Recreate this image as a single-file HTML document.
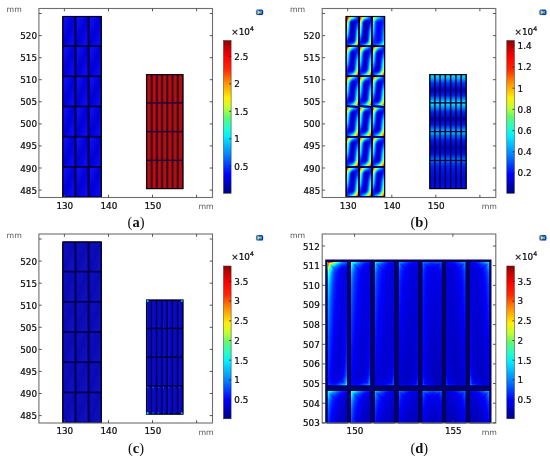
<!DOCTYPE html>
<html><head><meta charset="utf-8"><title>figure</title>
<style>
html,body{margin:0;padding:0;background:#fff}
svg{display:block;filter:blur(0.35px)}
.t{font-family:'DejaVu Sans', 'Liberation Sans', sans-serif;font-size:8.8px;fill:#0a0a0a;stroke:#0a0a0a;stroke-width:0.22px}
.m{font-family:'DejaVu Sans', 'Liberation Sans', sans-serif;font-size:7.8px;fill:#555}
.c{font-family:'Liberation Serif', 'DejaVu Serif', serif;font-size:14.5px;fill:#111}
</style></head><body>
<svg width="550" height="459" viewBox="0 0 550 459">
<defs>
<linearGradient id="icb" x1="0" y1="0" x2="1" y2="0.3"><stop offset="0" stop-color="#2a78d8"/><stop offset="1" stop-color="#0c1ea8"/></linearGradient>
<linearGradient id="jet" x1="0" y1="0" x2="0" y2="1">
<stop offset="0" stop-color="#8c0000"/><stop offset="0.05" stop-color="#c80000"/><stop offset="0.11" stop-color="#ff0000"/>
<stop offset="0.19" stop-color="#ff2800"/><stop offset="0.27" stop-color="#ff8800"/><stop offset="0.375" stop-color="#fff000"/>
<stop offset="0.44" stop-color="#c0ff30"/><stop offset="0.5" stop-color="#60f870"/><stop offset="0.57" stop-color="#20ffc8"/><stop offset="0.625" stop-color="#00f0ff"/>
<stop offset="0.75" stop-color="#0080ff"/><stop offset="0.875" stop-color="#0000ff"/>
<stop offset="1" stop-color="#000080"/></linearGradient>
<linearGradient id="ga" x1="0" y1="0" x2="1" y2="1"><stop offset="0" stop-color="#1212ff"/><stop offset="0.5" stop-color="#0000d6"/><stop offset="1" stop-color="#0e0efa"/></linearGradient>
<linearGradient id="gc" x1="0" y1="0" x2="1" y2="1"><stop offset="0" stop-color="#0e0ec0"/><stop offset="0.5" stop-color="#0a0ab4"/><stop offset="1" stop-color="#1212c8"/></linearGradient>
<linearGradient id="gr" x1="0" y1="0" x2="1" y2="0"><stop offset="0" stop-color="#7c0000"/><stop offset="0.3" stop-color="#b01010"/><stop offset="0.7" stop-color="#b01010"/><stop offset="1" stop-color="#7c0000"/></linearGradient>
<linearGradient id="gcr" x1="0" y1="0" x2="1" y2="0"><stop offset="0" stop-color="#0e0ed8"/><stop offset="0.5" stop-color="#0808c8"/><stop offset="1" stop-color="#0606b6"/></linearGradient>
<filter id="jetmap" color-interpolation-filters="sRGB" x="0" y="0" width="1" height="1"><feComponentTransfer><feFuncR type="table" tableValues="0 0 0 0 0.5 1 1 1 0.5"/><feFuncG type="table" tableValues="0 0 0.5 1 1 1 0.5 0 0"/><feFuncB type="table" tableValues="0.5 1 1 1 0.5 0 0 0 0"/></feComponentTransfer></filter>
<linearGradient id="cHgx" gradientUnits="userSpaceOnUse" x1="0" y1="0" x2="11.30" y2="0.00"><stop offset="0.000" stop-color="#fff" stop-opacity="1.000"/><stop offset="0.071" stop-color="#fff" stop-opacity="0.789"/><stop offset="0.143" stop-color="#fff" stop-opacity="0.599"/><stop offset="0.214" stop-color="#fff" stop-opacity="0.431"/><stop offset="0.286" stop-color="#fff" stop-opacity="0.286"/><stop offset="0.357" stop-color="#fff" stop-opacity="0.167"/><stop offset="0.429" stop-color="#fff" stop-opacity="0.076"/><stop offset="0.500" stop-color="#fff" stop-opacity="0.016"/><stop offset="0.571" stop-color="#fff" stop-opacity="0.000"/><stop offset="0.643" stop-color="#fff" stop-opacity="0.000"/><stop offset="0.714" stop-color="#fff" stop-opacity="0.000"/><stop offset="0.786" stop-color="#fff" stop-opacity="0.000"/><stop offset="0.857" stop-color="#fff" stop-opacity="0.000"/><stop offset="0.929" stop-color="#fff" stop-opacity="0.000"/><stop offset="1.000" stop-color="#fff" stop-opacity="0.000"/></linearGradient>
<linearGradient id="cHgy" gradientUnits="userSpaceOnUse" x1="0" y1="0" x2="0.00" y2="17.22"><stop offset="0.000" stop-color="#fff" stop-opacity="1.000"/><stop offset="0.071" stop-color="#fff" stop-opacity="0.720"/><stop offset="0.143" stop-color="#fff" stop-opacity="0.479"/><stop offset="0.214" stop-color="#fff" stop-opacity="0.280"/><stop offset="0.286" stop-color="#fff" stop-opacity="0.127"/><stop offset="0.357" stop-color="#fff" stop-opacity="0.028"/><stop offset="0.429" stop-color="#fff" stop-opacity="0.000"/><stop offset="0.500" stop-color="#fff" stop-opacity="0.000"/><stop offset="0.571" stop-color="#fff" stop-opacity="0.000"/><stop offset="0.643" stop-color="#fff" stop-opacity="0.000"/><stop offset="0.714" stop-color="#fff" stop-opacity="0.000"/><stop offset="0.786" stop-color="#fff" stop-opacity="0.000"/><stop offset="0.857" stop-color="#fff" stop-opacity="0.000"/><stop offset="0.929" stop-color="#fff" stop-opacity="0.000"/><stop offset="1.000" stop-color="#fff" stop-opacity="0.000"/></linearGradient>
<linearGradient id="cHhL" gradientUnits="userSpaceOnUse" x1="0" y1="0" x2="0.00" y2="28.70"><stop offset="0.000" stop-color="#bdbdbd"/><stop offset="0.071" stop-color="#b9b9b9"/><stop offset="0.143" stop-color="#afafaf"/><stop offset="0.214" stop-color="#a3a3a3"/><stop offset="0.286" stop-color="#969696"/><stop offset="0.357" stop-color="#898989"/><stop offset="0.429" stop-color="#7d7d7d"/><stop offset="0.500" stop-color="#717171"/><stop offset="0.571" stop-color="#616161"/><stop offset="0.643" stop-color="#515151"/><stop offset="0.714" stop-color="#404040"/><stop offset="0.786" stop-color="#2e2e2e"/><stop offset="0.857" stop-color="#1d1d1d"/><stop offset="0.929" stop-color="#131313"/><stop offset="1.000" stop-color="#090909"/></linearGradient>
<mask id="cHmL" maskUnits="userSpaceOnUse" x="0" y="0" width="11.30" height="28.70"><rect width="11.30" height="28.70" fill="url(#cHhL)"/></mask>
<linearGradient id="cHhR" gradientUnits="userSpaceOnUse" x1="0" y1="0" x2="0.00" y2="28.70"><stop offset="0.000" stop-color="#b2b2b2"/><stop offset="0.071" stop-color="#afafaf"/><stop offset="0.143" stop-color="#a6a6a6"/><stop offset="0.214" stop-color="#9a9a9a"/><stop offset="0.286" stop-color="#8e8e8e"/><stop offset="0.357" stop-color="#828282"/><stop offset="0.429" stop-color="#777777"/><stop offset="0.500" stop-color="#6b6b6b"/><stop offset="0.571" stop-color="#5c5c5c"/><stop offset="0.643" stop-color="#4c4c4c"/><stop offset="0.714" stop-color="#3d3d3d"/><stop offset="0.786" stop-color="#2c2c2c"/><stop offset="0.857" stop-color="#1c1c1c"/><stop offset="0.929" stop-color="#121212"/><stop offset="1.000" stop-color="#090909"/></linearGradient>
<mask id="cHmR" maskUnits="userSpaceOnUse" x="0" y="0" width="11.30" height="28.70"><rect width="11.30" height="28.70" fill="url(#cHhR)"/></mask>
<linearGradient id="cHhT" gradientUnits="userSpaceOnUse" x1="0" y1="0" x2="11.30" y2="0.00"><stop offset="0.000" stop-color="#a8a8a8"/><stop offset="0.071" stop-color="#a5a5a5"/><stop offset="0.143" stop-color="#a2a2a2"/><stop offset="0.214" stop-color="#9e9e9e"/><stop offset="0.286" stop-color="#979797"/><stop offset="0.357" stop-color="#8c8c8c"/><stop offset="0.429" stop-color="#818181"/><stop offset="0.500" stop-color="#767676"/><stop offset="0.571" stop-color="#686868"/><stop offset="0.643" stop-color="#5b5b5b"/><stop offset="0.714" stop-color="#4d4d4d"/><stop offset="0.786" stop-color="#404040"/><stop offset="0.857" stop-color="#333333"/><stop offset="0.929" stop-color="#262626"/><stop offset="1.000" stop-color="#191919"/></linearGradient>
<mask id="cHmT" maskUnits="userSpaceOnUse" x="0" y="0" width="11.30" height="28.70"><rect width="11.30" height="28.70" fill="url(#cHhT)"/></mask>
<linearGradient id="cHhB" gradientUnits="userSpaceOnUse" x1="0" y1="0" x2="11.30" y2="0.00"><stop offset="0.000" stop-color="#a1a1a1"/><stop offset="0.071" stop-color="#9d9d9d"/><stop offset="0.143" stop-color="#9a9a9a"/><stop offset="0.214" stop-color="#979797"/><stop offset="0.286" stop-color="#909090"/><stop offset="0.357" stop-color="#868686"/><stop offset="0.429" stop-color="#7b7b7b"/><stop offset="0.500" stop-color="#707070"/><stop offset="0.571" stop-color="#646464"/><stop offset="0.643" stop-color="#575757"/><stop offset="0.714" stop-color="#4a4a4a"/><stop offset="0.786" stop-color="#3d3d3d"/><stop offset="0.857" stop-color="#313131"/><stop offset="0.929" stop-color="#242424"/><stop offset="1.000" stop-color="#181818"/></linearGradient>
<mask id="cHmB" maskUnits="userSpaceOnUse" x="0" y="0" width="11.30" height="28.70"><rect width="11.30" height="28.70" fill="url(#cHhB)"/></mask>
<g id="cH"><rect width="11.30" height="28.70" fill="#0a0a0a"/><rect width="11.30" height="28.70" fill="url(#cHgx)" mask="url(#cHmL)" style="mix-blend-mode:screen"/><rect width="11.30" height="28.70" fill="url(#cHgy)" mask="url(#cHmT)" style="mix-blend-mode:screen"/><g transform="translate(11.30,28.70) rotate(180)" style="mix-blend-mode:screen"><rect width="11.30" height="28.70" fill="url(#cHgx)" mask="url(#cHmR)"/></g><g transform="translate(11.30,28.70) rotate(180)" style="mix-blend-mode:screen"><rect width="11.30" height="28.70" fill="url(#cHgy)" mask="url(#cHmB)"/></g></g>
<linearGradient id="cAgx" gradientUnits="userSpaceOnUse" x1="0" y1="0" x2="11.30" y2="0.00"><stop offset="0.000" stop-color="#fff" stop-opacity="1.000"/><stop offset="0.071" stop-color="#fff" stop-opacity="0.759"/><stop offset="0.143" stop-color="#fff" stop-opacity="0.547"/><stop offset="0.214" stop-color="#fff" stop-opacity="0.364"/><stop offset="0.286" stop-color="#fff" stop-opacity="0.213"/><stop offset="0.357" stop-color="#fff" stop-opacity="0.096"/><stop offset="0.429" stop-color="#fff" stop-opacity="0.021"/><stop offset="0.500" stop-color="#fff" stop-opacity="0.000"/><stop offset="0.571" stop-color="#fff" stop-opacity="0.000"/><stop offset="0.643" stop-color="#fff" stop-opacity="0.000"/><stop offset="0.714" stop-color="#fff" stop-opacity="0.000"/><stop offset="0.786" stop-color="#fff" stop-opacity="0.000"/><stop offset="0.857" stop-color="#fff" stop-opacity="0.000"/><stop offset="0.929" stop-color="#fff" stop-opacity="0.000"/><stop offset="1.000" stop-color="#fff" stop-opacity="0.000"/></linearGradient>
<linearGradient id="cAgy" gradientUnits="userSpaceOnUse" x1="0" y1="0" x2="0.00" y2="17.22"><stop offset="0.000" stop-color="#fff" stop-opacity="1.000"/><stop offset="0.071" stop-color="#fff" stop-opacity="0.677"/><stop offset="0.143" stop-color="#fff" stop-opacity="0.408"/><stop offset="0.214" stop-color="#fff" stop-opacity="0.197"/><stop offset="0.286" stop-color="#fff" stop-opacity="0.054"/><stop offset="0.357" stop-color="#fff" stop-opacity="0.000"/><stop offset="0.429" stop-color="#fff" stop-opacity="0.000"/><stop offset="0.500" stop-color="#fff" stop-opacity="0.000"/><stop offset="0.571" stop-color="#fff" stop-opacity="0.000"/><stop offset="0.643" stop-color="#fff" stop-opacity="0.000"/><stop offset="0.714" stop-color="#fff" stop-opacity="0.000"/><stop offset="0.786" stop-color="#fff" stop-opacity="0.000"/><stop offset="0.857" stop-color="#fff" stop-opacity="0.000"/><stop offset="0.929" stop-color="#fff" stop-opacity="0.000"/><stop offset="1.000" stop-color="#fff" stop-opacity="0.000"/></linearGradient>
<linearGradient id="cAhL" gradientUnits="userSpaceOnUse" x1="0" y1="0" x2="0.00" y2="28.70"><stop offset="0.000" stop-color="#f2f2f2"/><stop offset="0.071" stop-color="#ededed"/><stop offset="0.143" stop-color="#e1e1e1"/><stop offset="0.214" stop-color="#d1d1d1"/><stop offset="0.286" stop-color="#c0c0c0"/><stop offset="0.357" stop-color="#b0b0b0"/><stop offset="0.429" stop-color="#a1a1a1"/><stop offset="0.500" stop-color="#919191"/><stop offset="0.571" stop-color="#7d7d7d"/><stop offset="0.643" stop-color="#686868"/><stop offset="0.714" stop-color="#535353"/><stop offset="0.786" stop-color="#3c3c3c"/><stop offset="0.857" stop-color="#252525"/><stop offset="0.929" stop-color="#191919"/><stop offset="1.000" stop-color="#0c0c0c"/></linearGradient>
<mask id="cAmL" maskUnits="userSpaceOnUse" x="0" y="0" width="11.30" height="28.70"><rect width="11.30" height="28.70" fill="url(#cAhL)"/></mask>
<linearGradient id="cAhR" gradientUnits="userSpaceOnUse" x1="0" y1="0" x2="0.00" y2="28.70"><stop offset="0.000" stop-color="#adadad"/><stop offset="0.071" stop-color="#aaaaaa"/><stop offset="0.143" stop-color="#a1a1a1"/><stop offset="0.214" stop-color="#959595"/><stop offset="0.286" stop-color="#8a8a8a"/><stop offset="0.357" stop-color="#7e7e7e"/><stop offset="0.429" stop-color="#737373"/><stop offset="0.500" stop-color="#686868"/><stop offset="0.571" stop-color="#595959"/><stop offset="0.643" stop-color="#4a4a4a"/><stop offset="0.714" stop-color="#3b3b3b"/><stop offset="0.786" stop-color="#2b2b2b"/><stop offset="0.857" stop-color="#1b1b1b"/><stop offset="0.929" stop-color="#121212"/><stop offset="1.000" stop-color="#090909"/></linearGradient>
<mask id="cAmR" maskUnits="userSpaceOnUse" x="0" y="0" width="11.30" height="28.70"><rect width="11.30" height="28.70" fill="url(#cAhR)"/></mask>
<linearGradient id="cAhT" gradientUnits="userSpaceOnUse" x1="0" y1="0" x2="11.30" y2="0.00"><stop offset="0.000" stop-color="#d1d1d1"/><stop offset="0.071" stop-color="#cdcdcd"/><stop offset="0.143" stop-color="#c9c9c9"/><stop offset="0.214" stop-color="#c5c5c5"/><stop offset="0.286" stop-color="#bcbcbc"/><stop offset="0.357" stop-color="#aeaeae"/><stop offset="0.429" stop-color="#a0a0a0"/><stop offset="0.500" stop-color="#929292"/><stop offset="0.571" stop-color="#828282"/><stop offset="0.643" stop-color="#717171"/><stop offset="0.714" stop-color="#606060"/><stop offset="0.786" stop-color="#505050"/><stop offset="0.857" stop-color="#404040"/><stop offset="0.929" stop-color="#2f2f2f"/><stop offset="1.000" stop-color="#1f1f1f"/></linearGradient>
<mask id="cAmT" maskUnits="userSpaceOnUse" x="0" y="0" width="11.30" height="28.70"><rect width="11.30" height="28.70" fill="url(#cAhT)"/></mask>
<linearGradient id="cAhB" gradientUnits="userSpaceOnUse" x1="0" y1="0" x2="11.30" y2="0.00"><stop offset="0.000" stop-color="#999999"/><stop offset="0.071" stop-color="#969696"/><stop offset="0.143" stop-color="#939393"/><stop offset="0.214" stop-color="#909090"/><stop offset="0.286" stop-color="#898989"/><stop offset="0.357" stop-color="#7f7f7f"/><stop offset="0.429" stop-color="#757575"/><stop offset="0.500" stop-color="#6b6b6b"/><stop offset="0.571" stop-color="#5f5f5f"/><stop offset="0.643" stop-color="#535353"/><stop offset="0.714" stop-color="#464646"/><stop offset="0.786" stop-color="#3a3a3a"/><stop offset="0.857" stop-color="#2f2f2f"/><stop offset="0.929" stop-color="#232323"/><stop offset="1.000" stop-color="#171717"/></linearGradient>
<mask id="cAmB" maskUnits="userSpaceOnUse" x="0" y="0" width="11.30" height="28.70"><rect width="11.30" height="28.70" fill="url(#cAhB)"/></mask>
<g id="cA"><rect width="11.30" height="28.70" fill="#0a0a0a"/><rect width="11.30" height="28.70" fill="url(#cAgx)" mask="url(#cAmL)" style="mix-blend-mode:screen"/><rect width="11.30" height="28.70" fill="url(#cAgy)" mask="url(#cAmT)" style="mix-blend-mode:screen"/><g transform="translate(11.30,28.70) rotate(180)" style="mix-blend-mode:screen"><rect width="11.30" height="28.70" fill="url(#cAgx)" mask="url(#cAmR)"/></g><g transform="translate(11.30,28.70) rotate(180)" style="mix-blend-mode:screen"><rect width="11.30" height="28.70" fill="url(#cAgy)" mask="url(#cAmB)"/></g></g>
<linearGradient id="cBgx" gradientUnits="userSpaceOnUse" x1="0" y1="0" x2="11.30" y2="0.00"><stop offset="0.000" stop-color="#fff" stop-opacity="1.000"/><stop offset="0.071" stop-color="#fff" stop-opacity="0.759"/><stop offset="0.143" stop-color="#fff" stop-opacity="0.547"/><stop offset="0.214" stop-color="#fff" stop-opacity="0.364"/><stop offset="0.286" stop-color="#fff" stop-opacity="0.213"/><stop offset="0.357" stop-color="#fff" stop-opacity="0.096"/><stop offset="0.429" stop-color="#fff" stop-opacity="0.021"/><stop offset="0.500" stop-color="#fff" stop-opacity="0.000"/><stop offset="0.571" stop-color="#fff" stop-opacity="0.000"/><stop offset="0.643" stop-color="#fff" stop-opacity="0.000"/><stop offset="0.714" stop-color="#fff" stop-opacity="0.000"/><stop offset="0.786" stop-color="#fff" stop-opacity="0.000"/><stop offset="0.857" stop-color="#fff" stop-opacity="0.000"/><stop offset="0.929" stop-color="#fff" stop-opacity="0.000"/><stop offset="1.000" stop-color="#fff" stop-opacity="0.000"/></linearGradient>
<linearGradient id="cBgy" gradientUnits="userSpaceOnUse" x1="0" y1="0" x2="0.00" y2="17.22"><stop offset="0.000" stop-color="#fff" stop-opacity="1.000"/><stop offset="0.071" stop-color="#fff" stop-opacity="0.677"/><stop offset="0.143" stop-color="#fff" stop-opacity="0.408"/><stop offset="0.214" stop-color="#fff" stop-opacity="0.197"/><stop offset="0.286" stop-color="#fff" stop-opacity="0.054"/><stop offset="0.357" stop-color="#fff" stop-opacity="0.000"/><stop offset="0.429" stop-color="#fff" stop-opacity="0.000"/><stop offset="0.500" stop-color="#fff" stop-opacity="0.000"/><stop offset="0.571" stop-color="#fff" stop-opacity="0.000"/><stop offset="0.643" stop-color="#fff" stop-opacity="0.000"/><stop offset="0.714" stop-color="#fff" stop-opacity="0.000"/><stop offset="0.786" stop-color="#fff" stop-opacity="0.000"/><stop offset="0.857" stop-color="#fff" stop-opacity="0.000"/><stop offset="0.929" stop-color="#fff" stop-opacity="0.000"/><stop offset="1.000" stop-color="#fff" stop-opacity="0.000"/></linearGradient>
<linearGradient id="cBhL" gradientUnits="userSpaceOnUse" x1="0" y1="0" x2="0.00" y2="28.70"><stop offset="0.000" stop-color="#dbdbdb"/><stop offset="0.071" stop-color="#d7d7d7"/><stop offset="0.143" stop-color="#cccccc"/><stop offset="0.214" stop-color="#bdbdbd"/><stop offset="0.286" stop-color="#aeaeae"/><stop offset="0.357" stop-color="#a0a0a0"/><stop offset="0.429" stop-color="#929292"/><stop offset="0.500" stop-color="#848484"/><stop offset="0.571" stop-color="#717171"/><stop offset="0.643" stop-color="#5e5e5e"/><stop offset="0.714" stop-color="#4b4b4b"/><stop offset="0.786" stop-color="#363636"/><stop offset="0.857" stop-color="#222222"/><stop offset="0.929" stop-color="#161616"/><stop offset="1.000" stop-color="#0b0b0b"/></linearGradient>
<mask id="cBmL" maskUnits="userSpaceOnUse" x="0" y="0" width="11.30" height="28.70"><rect width="11.30" height="28.70" fill="url(#cBhL)"/></mask>
<linearGradient id="cBhR" gradientUnits="userSpaceOnUse" x1="0" y1="0" x2="0.00" y2="28.70"><stop offset="0.000" stop-color="#a3a3a3"/><stop offset="0.071" stop-color="#a0a0a0"/><stop offset="0.143" stop-color="#989898"/><stop offset="0.214" stop-color="#8d8d8d"/><stop offset="0.286" stop-color="#828282"/><stop offset="0.357" stop-color="#777777"/><stop offset="0.429" stop-color="#6c6c6c"/><stop offset="0.500" stop-color="#626262"/><stop offset="0.571" stop-color="#545454"/><stop offset="0.643" stop-color="#464646"/><stop offset="0.714" stop-color="#383838"/><stop offset="0.786" stop-color="#282828"/><stop offset="0.857" stop-color="#191919"/><stop offset="0.929" stop-color="#111111"/><stop offset="1.000" stop-color="#080808"/></linearGradient>
<mask id="cBmR" maskUnits="userSpaceOnUse" x="0" y="0" width="11.30" height="28.70"><rect width="11.30" height="28.70" fill="url(#cBhR)"/></mask>
<linearGradient id="cBhT" gradientUnits="userSpaceOnUse" x1="0" y1="0" x2="11.30" y2="0.00"><stop offset="0.000" stop-color="#bdbdbd"/><stop offset="0.071" stop-color="#b9b9b9"/><stop offset="0.143" stop-color="#b5b5b5"/><stop offset="0.214" stop-color="#b1b1b1"/><stop offset="0.286" stop-color="#a9a9a9"/><stop offset="0.357" stop-color="#9d9d9d"/><stop offset="0.429" stop-color="#909090"/><stop offset="0.500" stop-color="#848484"/><stop offset="0.571" stop-color="#757575"/><stop offset="0.643" stop-color="#666666"/><stop offset="0.714" stop-color="#575757"/><stop offset="0.786" stop-color="#484848"/><stop offset="0.857" stop-color="#393939"/><stop offset="0.929" stop-color="#2b2b2b"/><stop offset="1.000" stop-color="#1c1c1c"/></linearGradient>
<mask id="cBmT" maskUnits="userSpaceOnUse" x="0" y="0" width="11.30" height="28.70"><rect width="11.30" height="28.70" fill="url(#cBhT)"/></mask>
<linearGradient id="cBhB" gradientUnits="userSpaceOnUse" x1="0" y1="0" x2="11.30" y2="0.00"><stop offset="0.000" stop-color="#8f8f8f"/><stop offset="0.071" stop-color="#8c8c8c"/><stop offset="0.143" stop-color="#898989"/><stop offset="0.214" stop-color="#868686"/><stop offset="0.286" stop-color="#808080"/><stop offset="0.357" stop-color="#777777"/><stop offset="0.429" stop-color="#6d6d6d"/><stop offset="0.500" stop-color="#646464"/><stop offset="0.571" stop-color="#595959"/><stop offset="0.643" stop-color="#4d4d4d"/><stop offset="0.714" stop-color="#424242"/><stop offset="0.786" stop-color="#363636"/><stop offset="0.857" stop-color="#2b2b2b"/><stop offset="0.929" stop-color="#202020"/><stop offset="1.000" stop-color="#151515"/></linearGradient>
<mask id="cBmB" maskUnits="userSpaceOnUse" x="0" y="0" width="11.30" height="28.70"><rect width="11.30" height="28.70" fill="url(#cBhB)"/></mask>
<g id="cB"><rect width="11.30" height="28.70" fill="#0a0a0a"/><rect width="11.30" height="28.70" fill="url(#cBgx)" mask="url(#cBmL)" style="mix-blend-mode:screen"/><rect width="11.30" height="28.70" fill="url(#cBgy)" mask="url(#cBmT)" style="mix-blend-mode:screen"/><g transform="translate(11.30,28.70) rotate(180)" style="mix-blend-mode:screen"><rect width="11.30" height="28.70" fill="url(#cBgx)" mask="url(#cBmR)"/></g><g transform="translate(11.30,28.70) rotate(180)" style="mix-blend-mode:screen"><rect width="11.30" height="28.70" fill="url(#cBgy)" mask="url(#cBmB)"/></g></g>
<linearGradient id="cCgx" gradientUnits="userSpaceOnUse" x1="0" y1="0" x2="11.30" y2="0.00"><stop offset="0.000" stop-color="#fff" stop-opacity="1.000"/><stop offset="0.071" stop-color="#fff" stop-opacity="0.741"/><stop offset="0.143" stop-color="#fff" stop-opacity="0.515"/><stop offset="0.214" stop-color="#fff" stop-opacity="0.324"/><stop offset="0.286" stop-color="#fff" stop-opacity="0.171"/><stop offset="0.357" stop-color="#fff" stop-opacity="0.061"/><stop offset="0.429" stop-color="#fff" stop-opacity="0.003"/><stop offset="0.500" stop-color="#fff" stop-opacity="0.000"/><stop offset="0.571" stop-color="#fff" stop-opacity="0.000"/><stop offset="0.643" stop-color="#fff" stop-opacity="0.000"/><stop offset="0.714" stop-color="#fff" stop-opacity="0.000"/><stop offset="0.786" stop-color="#fff" stop-opacity="0.000"/><stop offset="0.857" stop-color="#fff" stop-opacity="0.000"/><stop offset="0.929" stop-color="#fff" stop-opacity="0.000"/><stop offset="1.000" stop-color="#fff" stop-opacity="0.000"/></linearGradient>
<linearGradient id="cCgy" gradientUnits="userSpaceOnUse" x1="0" y1="0" x2="0.00" y2="17.22"><stop offset="0.000" stop-color="#fff" stop-opacity="1.000"/><stop offset="0.071" stop-color="#fff" stop-opacity="0.677"/><stop offset="0.143" stop-color="#fff" stop-opacity="0.408"/><stop offset="0.214" stop-color="#fff" stop-opacity="0.197"/><stop offset="0.286" stop-color="#fff" stop-opacity="0.054"/><stop offset="0.357" stop-color="#fff" stop-opacity="0.000"/><stop offset="0.429" stop-color="#fff" stop-opacity="0.000"/><stop offset="0.500" stop-color="#fff" stop-opacity="0.000"/><stop offset="0.571" stop-color="#fff" stop-opacity="0.000"/><stop offset="0.643" stop-color="#fff" stop-opacity="0.000"/><stop offset="0.714" stop-color="#fff" stop-opacity="0.000"/><stop offset="0.786" stop-color="#fff" stop-opacity="0.000"/><stop offset="0.857" stop-color="#fff" stop-opacity="0.000"/><stop offset="0.929" stop-color="#fff" stop-opacity="0.000"/><stop offset="1.000" stop-color="#fff" stop-opacity="0.000"/></linearGradient>
<linearGradient id="cChL" gradientUnits="userSpaceOnUse" x1="0" y1="0" x2="0.00" y2="28.70"><stop offset="0.000" stop-color="#858585"/><stop offset="0.071" stop-color="#828282"/><stop offset="0.143" stop-color="#7b7b7b"/><stop offset="0.214" stop-color="#727272"/><stop offset="0.286" stop-color="#696969"/><stop offset="0.357" stop-color="#616161"/><stop offset="0.429" stop-color="#585858"/><stop offset="0.500" stop-color="#505050"/><stop offset="0.571" stop-color="#444444"/><stop offset="0.643" stop-color="#393939"/><stop offset="0.714" stop-color="#2d2d2d"/><stop offset="0.786" stop-color="#212121"/><stop offset="0.857" stop-color="#151515"/><stop offset="0.929" stop-color="#0e0e0e"/><stop offset="1.000" stop-color="#070707"/></linearGradient>
<mask id="cCmL" maskUnits="userSpaceOnUse" x="0" y="0" width="11.30" height="28.70"><rect width="11.30" height="28.70" fill="url(#cChL)"/></mask>
<linearGradient id="cChR" gradientUnits="userSpaceOnUse" x1="0" y1="0" x2="0.00" y2="28.70"><stop offset="0.000" stop-color="#4c4c4c"/><stop offset="0.071" stop-color="#4b4b4b"/><stop offset="0.143" stop-color="#474747"/><stop offset="0.214" stop-color="#424242"/><stop offset="0.286" stop-color="#3d3d3d"/><stop offset="0.357" stop-color="#383838"/><stop offset="0.429" stop-color="#333333"/><stop offset="0.500" stop-color="#2e2e2e"/><stop offset="0.571" stop-color="#272727"/><stop offset="0.643" stop-color="#212121"/><stop offset="0.714" stop-color="#1a1a1a"/><stop offset="0.786" stop-color="#131313"/><stop offset="0.857" stop-color="#0c0c0c"/><stop offset="0.929" stop-color="#080808"/><stop offset="1.000" stop-color="#040404"/></linearGradient>
<mask id="cCmR" maskUnits="userSpaceOnUse" x="0" y="0" width="11.30" height="28.70"><rect width="11.30" height="28.70" fill="url(#cChR)"/></mask>
<linearGradient id="cChT" gradientUnits="userSpaceOnUse" x1="0" y1="0" x2="11.30" y2="0.00"><stop offset="0.000" stop-color="#757575"/><stop offset="0.071" stop-color="#737373"/><stop offset="0.143" stop-color="#717171"/><stop offset="0.214" stop-color="#6e6e6e"/><stop offset="0.286" stop-color="#696969"/><stop offset="0.357" stop-color="#626262"/><stop offset="0.429" stop-color="#5a5a5a"/><stop offset="0.500" stop-color="#525252"/><stop offset="0.571" stop-color="#494949"/><stop offset="0.643" stop-color="#3f3f3f"/><stop offset="0.714" stop-color="#363636"/><stop offset="0.786" stop-color="#2d2d2d"/><stop offset="0.857" stop-color="#242424"/><stop offset="0.929" stop-color="#1b1b1b"/><stop offset="1.000" stop-color="#121212"/></linearGradient>
<mask id="cCmT" maskUnits="userSpaceOnUse" x="0" y="0" width="11.30" height="28.70"><rect width="11.30" height="28.70" fill="url(#cChT)"/></mask>
<linearGradient id="cChB" gradientUnits="userSpaceOnUse" x1="0" y1="0" x2="11.30" y2="0.00"><stop offset="0.000" stop-color="#4c4c4c"/><stop offset="0.071" stop-color="#4b4b4b"/><stop offset="0.143" stop-color="#494949"/><stop offset="0.214" stop-color="#484848"/><stop offset="0.286" stop-color="#454545"/><stop offset="0.357" stop-color="#404040"/><stop offset="0.429" stop-color="#3b3b3b"/><stop offset="0.500" stop-color="#363636"/><stop offset="0.571" stop-color="#2f2f2f"/><stop offset="0.643" stop-color="#292929"/><stop offset="0.714" stop-color="#232323"/><stop offset="0.786" stop-color="#1d1d1d"/><stop offset="0.857" stop-color="#171717"/><stop offset="0.929" stop-color="#111111"/><stop offset="1.000" stop-color="#0b0b0b"/></linearGradient>
<mask id="cCmB" maskUnits="userSpaceOnUse" x="0" y="0" width="11.30" height="28.70"><rect width="11.30" height="28.70" fill="url(#cChB)"/></mask>
<g id="cC"><rect width="11.30" height="28.70" fill="#1f1f1f"/><rect width="11.30" height="28.70" fill="url(#cCgx)" mask="url(#cCmL)" style="mix-blend-mode:screen"/><rect width="11.30" height="28.70" fill="url(#cCgy)" mask="url(#cCmT)" style="mix-blend-mode:screen"/><g transform="translate(11.30,28.70) rotate(180)" style="mix-blend-mode:screen"><rect width="11.30" height="28.70" fill="url(#cCgx)" mask="url(#cCmR)"/></g><g transform="translate(11.30,28.70) rotate(180)" style="mix-blend-mode:screen"><rect width="11.30" height="28.70" fill="url(#cCgy)" mask="url(#cCmB)"/></g></g>
<linearGradient id="rb0" x1="0" y1="0" x2="0" y2="1"><stop offset="0" stop-color="#00f0e0"/><stop offset="0.12" stop-color="#00b0ff"/><stop offset="0.3" stop-color="#0030ff"/><stop offset="0.55" stop-color="#0000c0"/><stop offset="0.75" stop-color="#0020f0"/><stop offset="0.9" stop-color="#0090ff"/><stop offset="1" stop-color="#00e0ff"/></linearGradient>
<linearGradient id="rb1" x1="0" y1="0" x2="0" y2="1"><stop offset="0" stop-color="#00e8f0"/><stop offset="0.12" stop-color="#00a0ff"/><stop offset="0.3" stop-color="#0028f8"/><stop offset="0.55" stop-color="#0000b8"/><stop offset="0.78" stop-color="#0018e8"/><stop offset="0.92" stop-color="#0070ff"/><stop offset="1" stop-color="#00b8ff"/></linearGradient>
<linearGradient id="rb2" x1="0" y1="0" x2="0" y2="1"><stop offset="0" stop-color="#00d0ff"/><stop offset="0.1" stop-color="#0070ff"/><stop offset="0.3" stop-color="#0018f0"/><stop offset="0.55" stop-color="#0000c0"/><stop offset="0.8" stop-color="#0010e0"/><stop offset="0.94" stop-color="#0050ff"/><stop offset="1" stop-color="#0090ff"/></linearGradient>
<linearGradient id="rb3" x1="0" y1="0" x2="0" y2="1"><stop offset="0" stop-color="#0060ff"/><stop offset="0.15" stop-color="#0028ff"/><stop offset="0.4" stop-color="#0010e8"/><stop offset="0.7" stop-color="#0008d8"/><stop offset="1" stop-color="#0010f0"/></linearGradient>
<radialGradient id="spG"><stop offset="0" stop-color="#40ffa0" stop-opacity="0.95"/><stop offset="0.5" stop-color="#00c8ff" stop-opacity="0.6"/><stop offset="1" stop-color="#0060ff" stop-opacity="0"/></radialGradient>
<radialGradient id="spD"><stop offset="0" stop-color="#0070ff" stop-opacity="0.6"/><stop offset="1" stop-color="#0040ff" stop-opacity="0"/></radialGradient>
<radialGradient id="spC"><stop offset="0" stop-color="#00c0ff" stop-opacity="0.8"/><stop offset="1" stop-color="#0050ff" stop-opacity="0"/></radialGradient>
<linearGradient id="rimx" gradientUnits="userSpaceOnUse" x1="0" y1="0" x2="3.00" y2="0.00"><stop offset="0.000" stop-color="#fff" stop-opacity="1.000"/><stop offset="0.167" stop-color="#fff" stop-opacity="0.708"/><stop offset="0.333" stop-color="#fff" stop-opacity="0.435"/><stop offset="0.500" stop-color="#fff" stop-opacity="0.189"/><stop offset="0.667" stop-color="#fff" stop-opacity="0.000"/><stop offset="0.833" stop-color="#fff" stop-opacity="0.000"/><stop offset="1.000" stop-color="#fff" stop-opacity="0.000"/></linearGradient>
<linearGradient id="rimy" gradientUnits="userSpaceOnUse" x1="0" y1="0" x2="0.00" y2="3.00"><stop offset="0.000" stop-color="#fff" stop-opacity="1.000"/><stop offset="0.167" stop-color="#fff" stop-opacity="0.677"/><stop offset="0.333" stop-color="#fff" stop-opacity="0.378"/><stop offset="0.500" stop-color="#fff" stop-opacity="0.116"/><stop offset="0.667" stop-color="#fff" stop-opacity="0.000"/><stop offset="0.833" stop-color="#fff" stop-opacity="0.000"/><stop offset="1.000" stop-color="#fff" stop-opacity="0.000"/></linearGradient>
<linearGradient id="rimL" gradientUnits="userSpaceOnUse" x1="0" y1="0" x2="0.00" y2="18.00"><stop offset="0.000" stop-color="#b8b8b8"/><stop offset="0.111" stop-color="#b1b1b1"/><stop offset="0.222" stop-color="#9e9e9e"/><stop offset="0.333" stop-color="#808080"/><stop offset="0.444" stop-color="#5e5e5e"/><stop offset="0.556" stop-color="#404040"/><stop offset="0.667" stop-color="#262626"/><stop offset="0.778" stop-color="#141414"/><stop offset="0.889" stop-color="#0a0a0a"/><stop offset="1.000" stop-color="#000000"/></linearGradient>
<linearGradient id="rimT" gradientUnits="userSpaceOnUse" x1="0" y1="0" x2="12.00" y2="0.00"><stop offset="0.000" stop-color="#b8b8b8"/><stop offset="0.125" stop-color="#ababab"/><stop offset="0.250" stop-color="#9e9e9e"/><stop offset="0.375" stop-color="#828282"/><stop offset="0.500" stop-color="#666666"/><stop offset="0.625" stop-color="#4d4d4d"/><stop offset="0.750" stop-color="#333333"/><stop offset="0.875" stop-color="#1a1a1a"/><stop offset="1.000" stop-color="#000000"/></linearGradient>
<mask id="rmL" maskUnits="userSpaceOnUse" x="0" y="0" width="3" height="18"><rect width="3" height="18" fill="url(#rimL)"/></mask>
<mask id="rmT" maskUnits="userSpaceOnUse" x="0" y="0" width="12" height="3"><rect width="12" height="3" fill="url(#rimT)"/></mask>
<linearGradient id="dgx1" gradientUnits="userSpaceOnUse" x1="0" y1="0" x2="19.80" y2="0.00"><stop offset="0.000" stop-color="#fff" stop-opacity="1.000"/><stop offset="0.062" stop-color="#fff" stop-opacity="0.806"/><stop offset="0.125" stop-color="#fff" stop-opacity="0.629"/><stop offset="0.188" stop-color="#fff" stop-opacity="0.471"/><stop offset="0.250" stop-color="#fff" stop-opacity="0.334"/><stop offset="0.312" stop-color="#fff" stop-opacity="0.224"/><stop offset="0.375" stop-color="#fff" stop-opacity="0.161"/><stop offset="0.438" stop-color="#fff" stop-opacity="0.124"/><stop offset="0.500" stop-color="#fff" stop-opacity="0.089"/><stop offset="0.562" stop-color="#fff" stop-opacity="0.059"/><stop offset="0.625" stop-color="#fff" stop-opacity="0.033"/><stop offset="0.688" stop-color="#fff" stop-opacity="0.013"/><stop offset="0.750" stop-color="#fff" stop-opacity="0.000"/><stop offset="0.812" stop-color="#fff" stop-opacity="0.000"/><stop offset="0.875" stop-color="#fff" stop-opacity="0.000"/><stop offset="0.938" stop-color="#fff" stop-opacity="0.000"/><stop offset="1.000" stop-color="#fff" stop-opacity="0.000"/></linearGradient>
<linearGradient id="dgy1" gradientUnits="userSpaceOnUse" x1="0" y1="0" x2="0.00" y2="14.00"><stop offset="0.000" stop-color="#fff" stop-opacity="1.000"/><stop offset="0.071" stop-color="#fff" stop-opacity="0.802"/><stop offset="0.143" stop-color="#fff" stop-opacity="0.622"/><stop offset="0.214" stop-color="#fff" stop-opacity="0.461"/><stop offset="0.286" stop-color="#fff" stop-opacity="0.323"/><stop offset="0.357" stop-color="#fff" stop-opacity="0.216"/><stop offset="0.429" stop-color="#fff" stop-opacity="0.159"/><stop offset="0.500" stop-color="#fff" stop-opacity="0.121"/><stop offset="0.571" stop-color="#fff" stop-opacity="0.087"/><stop offset="0.643" stop-color="#fff" stop-opacity="0.056"/><stop offset="0.714" stop-color="#fff" stop-opacity="0.031"/><stop offset="0.786" stop-color="#fff" stop-opacity="0.011"/><stop offset="0.857" stop-color="#fff" stop-opacity="0.000"/><stop offset="0.929" stop-color="#fff" stop-opacity="0.000"/><stop offset="1.000" stop-color="#fff" stop-opacity="0.000"/></linearGradient>
<linearGradient id="dL1" gradientUnits="userSpaceOnUse" x1="0" y1="0" x2="0.00" y2="124.00"><stop offset="0.000" stop-color="#a8a8a8"/><stop offset="0.062" stop-color="#808080"/><stop offset="0.125" stop-color="#606060"/><stop offset="0.188" stop-color="#4d4d4d"/><stop offset="0.250" stop-color="#444444"/><stop offset="0.312" stop-color="#3b3b3b"/><stop offset="0.375" stop-color="#353535"/><stop offset="0.438" stop-color="#313131"/><stop offset="0.500" stop-color="#2c2c2c"/><stop offset="0.562" stop-color="#282828"/><stop offset="0.625" stop-color="#232323"/><stop offset="0.688" stop-color="#202020"/><stop offset="0.750" stop-color="#1d1d1d"/><stop offset="0.812" stop-color="#1a1a1a"/><stop offset="0.875" stop-color="#171717"/><stop offset="0.938" stop-color="#141414"/><stop offset="1.000" stop-color="#111111"/></linearGradient>
<linearGradient id="dT1" gradientUnits="userSpaceOnUse" x1="0" y1="0" x2="19.80" y2="0.00"><stop offset="0.000" stop-color="#949494"/><stop offset="0.125" stop-color="#888888"/><stop offset="0.250" stop-color="#7c7c7c"/><stop offset="0.375" stop-color="#6a6a6a"/><stop offset="0.500" stop-color="#575757"/><stop offset="0.625" stop-color="#464646"/><stop offset="0.750" stop-color="#363636"/><stop offset="0.875" stop-color="#2c2c2c"/><stop offset="1.000" stop-color="#212121"/></linearGradient>
<mask id="dmL1" maskUnits="userSpaceOnUse" x="0" y="0" width="19.8" height="124"><rect width="19.8" height="124" fill="url(#dL1)"/></mask>
<mask id="dmT1" maskUnits="userSpaceOnUse" x="0" y="0" width="19.8" height="14"><rect width="19.8" height="14" fill="url(#dT1)"/></mask>
<g id="k1"><rect width="19.8" height="124" fill="url(#dgx1)" mask="url(#dmL1)"/><rect width="19.8" height="14" fill="url(#dgy1)" mask="url(#dmT1)"/><path d="M0.8 0.8L11 11" stroke="url(#diag)" stroke-width="1.4" fill="none"/><rect width="3" height="18" fill="url(#rimx)" mask="url(#rmL)"/><rect width="12" height="3" fill="url(#rimy)" mask="url(#rmT)"/></g>
<linearGradient id="dgx2" gradientUnits="userSpaceOnUse" x1="0" y1="0" x2="19.80" y2="0.00"><stop offset="0.000" stop-color="#fff" stop-opacity="1.000"/><stop offset="0.062" stop-color="#fff" stop-opacity="0.755"/><stop offset="0.125" stop-color="#fff" stop-opacity="0.541"/><stop offset="0.188" stop-color="#fff" stop-opacity="0.366"/><stop offset="0.250" stop-color="#fff" stop-opacity="0.247"/><stop offset="0.312" stop-color="#fff" stop-opacity="0.203"/><stop offset="0.375" stop-color="#fff" stop-opacity="0.161"/><stop offset="0.438" stop-color="#fff" stop-opacity="0.124"/><stop offset="0.500" stop-color="#fff" stop-opacity="0.089"/><stop offset="0.562" stop-color="#fff" stop-opacity="0.059"/><stop offset="0.625" stop-color="#fff" stop-opacity="0.033"/><stop offset="0.688" stop-color="#fff" stop-opacity="0.013"/><stop offset="0.750" stop-color="#fff" stop-opacity="0.000"/><stop offset="0.812" stop-color="#fff" stop-opacity="0.000"/><stop offset="0.875" stop-color="#fff" stop-opacity="0.000"/><stop offset="0.938" stop-color="#fff" stop-opacity="0.000"/><stop offset="1.000" stop-color="#fff" stop-opacity="0.000"/></linearGradient>
<linearGradient id="dgy2" gradientUnits="userSpaceOnUse" x1="0" y1="0" x2="0.00" y2="14.00"><stop offset="0.000" stop-color="#fff" stop-opacity="1.000"/><stop offset="0.071" stop-color="#fff" stop-opacity="0.752"/><stop offset="0.143" stop-color="#fff" stop-opacity="0.537"/><stop offset="0.214" stop-color="#fff" stop-opacity="0.361"/><stop offset="0.286" stop-color="#fff" stop-opacity="0.245"/><stop offset="0.357" stop-color="#fff" stop-opacity="0.200"/><stop offset="0.429" stop-color="#fff" stop-opacity="0.159"/><stop offset="0.500" stop-color="#fff" stop-opacity="0.121"/><stop offset="0.571" stop-color="#fff" stop-opacity="0.087"/><stop offset="0.643" stop-color="#fff" stop-opacity="0.056"/><stop offset="0.714" stop-color="#fff" stop-opacity="0.031"/><stop offset="0.786" stop-color="#fff" stop-opacity="0.011"/><stop offset="0.857" stop-color="#fff" stop-opacity="0.000"/><stop offset="0.929" stop-color="#fff" stop-opacity="0.000"/><stop offset="1.000" stop-color="#fff" stop-opacity="0.000"/></linearGradient>
<linearGradient id="dL2" gradientUnits="userSpaceOnUse" x1="0" y1="0" x2="0.00" y2="124.00"><stop offset="0.000" stop-color="#4f4f4f"/><stop offset="0.062" stop-color="#3c3c3c"/><stop offset="0.125" stop-color="#2d2d2d"/><stop offset="0.188" stop-color="#242424"/><stop offset="0.250" stop-color="#202020"/><stop offset="0.312" stop-color="#1c1c1c"/><stop offset="0.375" stop-color="#191919"/><stop offset="0.438" stop-color="#171717"/><stop offset="0.500" stop-color="#151515"/><stop offset="0.562" stop-color="#131313"/><stop offset="0.625" stop-color="#111111"/><stop offset="0.688" stop-color="#0f0f0f"/><stop offset="0.750" stop-color="#0d0d0d"/><stop offset="0.812" stop-color="#0c0c0c"/><stop offset="0.875" stop-color="#0b0b0b"/><stop offset="0.938" stop-color="#090909"/><stop offset="1.000" stop-color="#080808"/></linearGradient>
<linearGradient id="dT2" gradientUnits="userSpaceOnUse" x1="0" y1="0" x2="19.80" y2="0.00"><stop offset="0.000" stop-color="#404040"/><stop offset="0.125" stop-color="#3b3b3b"/><stop offset="0.250" stop-color="#363636"/><stop offset="0.375" stop-color="#2e2e2e"/><stop offset="0.500" stop-color="#252525"/><stop offset="0.625" stop-color="#1e1e1e"/><stop offset="0.750" stop-color="#171717"/><stop offset="0.875" stop-color="#131313"/><stop offset="1.000" stop-color="#0e0e0e"/></linearGradient>
<mask id="dmL2" maskUnits="userSpaceOnUse" x="0" y="0" width="19.8" height="124"><rect width="19.8" height="124" fill="url(#dL2)"/></mask>
<mask id="dmT2" maskUnits="userSpaceOnUse" x="0" y="0" width="19.8" height="14"><rect width="19.8" height="14" fill="url(#dT2)"/></mask>
<g id="k2"><rect width="19.8" height="124" fill="url(#dgx2)" mask="url(#dmL2)"/><rect width="19.8" height="14" fill="url(#dgy2)" mask="url(#dmT2)"/><path d="M0.8 0.8L10 10" stroke="url(#diag)" stroke-width="1.4" fill="none"/></g>
<linearGradient id="dgx3" gradientUnits="userSpaceOnUse" x1="0" y1="0" x2="19.80" y2="0.00"><stop offset="0.000" stop-color="#fff" stop-opacity="1.000"/><stop offset="0.062" stop-color="#fff" stop-opacity="0.700"/><stop offset="0.125" stop-color="#fff" stop-opacity="0.457"/><stop offset="0.188" stop-color="#fff" stop-opacity="0.296"/><stop offset="0.250" stop-color="#fff" stop-opacity="0.247"/><stop offset="0.312" stop-color="#fff" stop-opacity="0.203"/><stop offset="0.375" stop-color="#fff" stop-opacity="0.161"/><stop offset="0.438" stop-color="#fff" stop-opacity="0.124"/><stop offset="0.500" stop-color="#fff" stop-opacity="0.089"/><stop offset="0.562" stop-color="#fff" stop-opacity="0.059"/><stop offset="0.625" stop-color="#fff" stop-opacity="0.033"/><stop offset="0.688" stop-color="#fff" stop-opacity="0.013"/><stop offset="0.750" stop-color="#fff" stop-opacity="0.000"/><stop offset="0.812" stop-color="#fff" stop-opacity="0.000"/><stop offset="0.875" stop-color="#fff" stop-opacity="0.000"/><stop offset="0.938" stop-color="#fff" stop-opacity="0.000"/><stop offset="1.000" stop-color="#fff" stop-opacity="0.000"/></linearGradient>
<linearGradient id="dgy3" gradientUnits="userSpaceOnUse" x1="0" y1="0" x2="0.00" y2="14.00"><stop offset="0.000" stop-color="#fff" stop-opacity="1.000"/><stop offset="0.071" stop-color="#fff" stop-opacity="0.708"/><stop offset="0.143" stop-color="#fff" stop-opacity="0.469"/><stop offset="0.214" stop-color="#fff" stop-opacity="0.301"/><stop offset="0.286" stop-color="#fff" stop-opacity="0.245"/><stop offset="0.357" stop-color="#fff" stop-opacity="0.200"/><stop offset="0.429" stop-color="#fff" stop-opacity="0.159"/><stop offset="0.500" stop-color="#fff" stop-opacity="0.121"/><stop offset="0.571" stop-color="#fff" stop-opacity="0.087"/><stop offset="0.643" stop-color="#fff" stop-opacity="0.056"/><stop offset="0.714" stop-color="#fff" stop-opacity="0.031"/><stop offset="0.786" stop-color="#fff" stop-opacity="0.011"/><stop offset="0.857" stop-color="#fff" stop-opacity="0.000"/><stop offset="0.929" stop-color="#fff" stop-opacity="0.000"/><stop offset="1.000" stop-color="#fff" stop-opacity="0.000"/></linearGradient>
<linearGradient id="dL3" gradientUnits="userSpaceOnUse" x1="0" y1="0" x2="0.00" y2="124.00"><stop offset="0.000" stop-color="#404040"/><stop offset="0.062" stop-color="#313131"/><stop offset="0.125" stop-color="#242424"/><stop offset="0.188" stop-color="#1d1d1d"/><stop offset="0.250" stop-color="#1a1a1a"/><stop offset="0.312" stop-color="#161616"/><stop offset="0.375" stop-color="#141414"/><stop offset="0.438" stop-color="#121212"/><stop offset="0.500" stop-color="#111111"/><stop offset="0.562" stop-color="#0f0f0f"/><stop offset="0.625" stop-color="#0d0d0d"/><stop offset="0.688" stop-color="#0c0c0c"/><stop offset="0.750" stop-color="#0b0b0b"/><stop offset="0.812" stop-color="#0a0a0a"/><stop offset="0.875" stop-color="#090909"/><stop offset="0.938" stop-color="#070707"/><stop offset="1.000" stop-color="#060606"/></linearGradient>
<linearGradient id="dT3" gradientUnits="userSpaceOnUse" x1="0" y1="0" x2="19.80" y2="0.00"><stop offset="0.000" stop-color="#333333"/><stop offset="0.125" stop-color="#2f2f2f"/><stop offset="0.250" stop-color="#2b2b2b"/><stop offset="0.375" stop-color="#242424"/><stop offset="0.500" stop-color="#1e1e1e"/><stop offset="0.625" stop-color="#181818"/><stop offset="0.750" stop-color="#131313"/><stop offset="0.875" stop-color="#0f0f0f"/><stop offset="1.000" stop-color="#0c0c0c"/></linearGradient>
<mask id="dmL3" maskUnits="userSpaceOnUse" x="0" y="0" width="19.8" height="124"><rect width="19.8" height="124" fill="url(#dL3)"/></mask>
<mask id="dmT3" maskUnits="userSpaceOnUse" x="0" y="0" width="19.8" height="14"><rect width="19.8" height="14" fill="url(#dT3)"/></mask>
<g id="k3"><rect width="19.8" height="124" fill="url(#dgx3)" mask="url(#dmL3)"/><rect width="19.8" height="14" fill="url(#dgy3)" mask="url(#dmT3)"/><path d="M0.8 0.8L9 9" stroke="url(#diag)" stroke-width="1.4" fill="none"/></g>
<linearGradient id="dgx4" gradientUnits="userSpaceOnUse" x1="0" y1="0" x2="19.80" y2="0.00"><stop offset="0.000" stop-color="#fff" stop-opacity="1.000"/><stop offset="0.062" stop-color="#fff" stop-opacity="0.674"/><stop offset="0.125" stop-color="#fff" stop-opacity="0.421"/><stop offset="0.188" stop-color="#fff" stop-opacity="0.294"/><stop offset="0.250" stop-color="#fff" stop-opacity="0.247"/><stop offset="0.312" stop-color="#fff" stop-opacity="0.203"/><stop offset="0.375" stop-color="#fff" stop-opacity="0.161"/><stop offset="0.438" stop-color="#fff" stop-opacity="0.124"/><stop offset="0.500" stop-color="#fff" stop-opacity="0.089"/><stop offset="0.562" stop-color="#fff" stop-opacity="0.059"/><stop offset="0.625" stop-color="#fff" stop-opacity="0.033"/><stop offset="0.688" stop-color="#fff" stop-opacity="0.013"/><stop offset="0.750" stop-color="#fff" stop-opacity="0.000"/><stop offset="0.812" stop-color="#fff" stop-opacity="0.000"/><stop offset="0.875" stop-color="#fff" stop-opacity="0.000"/><stop offset="0.938" stop-color="#fff" stop-opacity="0.000"/><stop offset="1.000" stop-color="#fff" stop-opacity="0.000"/></linearGradient>
<linearGradient id="dgy4" gradientUnits="userSpaceOnUse" x1="0" y1="0" x2="0.00" y2="14.00"><stop offset="0.000" stop-color="#fff" stop-opacity="1.000"/><stop offset="0.071" stop-color="#fff" stop-opacity="0.694"/><stop offset="0.143" stop-color="#fff" stop-opacity="0.448"/><stop offset="0.214" stop-color="#fff" stop-opacity="0.292"/><stop offset="0.286" stop-color="#fff" stop-opacity="0.245"/><stop offset="0.357" stop-color="#fff" stop-opacity="0.200"/><stop offset="0.429" stop-color="#fff" stop-opacity="0.159"/><stop offset="0.500" stop-color="#fff" stop-opacity="0.121"/><stop offset="0.571" stop-color="#fff" stop-opacity="0.087"/><stop offset="0.643" stop-color="#fff" stop-opacity="0.056"/><stop offset="0.714" stop-color="#fff" stop-opacity="0.031"/><stop offset="0.786" stop-color="#fff" stop-opacity="0.011"/><stop offset="0.857" stop-color="#fff" stop-opacity="0.000"/><stop offset="0.929" stop-color="#fff" stop-opacity="0.000"/><stop offset="1.000" stop-color="#fff" stop-opacity="0.000"/></linearGradient>
<linearGradient id="dL4" gradientUnits="userSpaceOnUse" x1="0" y1="0" x2="0.00" y2="124.00"><stop offset="0.000" stop-color="#303030"/><stop offset="0.062" stop-color="#252525"/><stop offset="0.125" stop-color="#1c1c1c"/><stop offset="0.188" stop-color="#161616"/><stop offset="0.250" stop-color="#141414"/><stop offset="0.312" stop-color="#111111"/><stop offset="0.375" stop-color="#0f0f0f"/><stop offset="0.438" stop-color="#0e0e0e"/><stop offset="0.500" stop-color="#0d0d0d"/><stop offset="0.562" stop-color="#0b0b0b"/><stop offset="0.625" stop-color="#0a0a0a"/><stop offset="0.688" stop-color="#090909"/><stop offset="0.750" stop-color="#080808"/><stop offset="0.812" stop-color="#070707"/><stop offset="0.875" stop-color="#070707"/><stop offset="0.938" stop-color="#060606"/><stop offset="1.000" stop-color="#050505"/></linearGradient>
<linearGradient id="dT4" gradientUnits="userSpaceOnUse" x1="0" y1="0" x2="19.80" y2="0.00"><stop offset="0.000" stop-color="#262626"/><stop offset="0.125" stop-color="#232323"/><stop offset="0.250" stop-color="#202020"/><stop offset="0.375" stop-color="#1b1b1b"/><stop offset="0.500" stop-color="#161616"/><stop offset="0.625" stop-color="#121212"/><stop offset="0.750" stop-color="#0e0e0e"/><stop offset="0.875" stop-color="#0b0b0b"/><stop offset="1.000" stop-color="#090909"/></linearGradient>
<mask id="dmL4" maskUnits="userSpaceOnUse" x="0" y="0" width="19.8" height="124"><rect width="19.8" height="124" fill="url(#dL4)"/></mask>
<mask id="dmT4" maskUnits="userSpaceOnUse" x="0" y="0" width="19.8" height="14"><rect width="19.8" height="14" fill="url(#dT4)"/></mask>
<g id="k4"><rect width="19.8" height="124" fill="url(#dgx4)" mask="url(#dmL4)"/><rect width="19.8" height="14" fill="url(#dgy4)" mask="url(#dmT4)"/><path d="M0.8 0.8L8 8" stroke="url(#diag)" stroke-width="1.4" fill="none"/></g>
<linearGradient id="dgx5" gradientUnits="userSpaceOnUse" x1="0" y1="0" x2="19.80" y2="0.00"><stop offset="0.000" stop-color="#fff" stop-opacity="1.000"/><stop offset="0.062" stop-color="#fff" stop-opacity="0.660"/><stop offset="0.125" stop-color="#fff" stop-opacity="0.403"/><stop offset="0.188" stop-color="#fff" stop-opacity="0.294"/><stop offset="0.250" stop-color="#fff" stop-opacity="0.247"/><stop offset="0.312" stop-color="#fff" stop-opacity="0.203"/><stop offset="0.375" stop-color="#fff" stop-opacity="0.161"/><stop offset="0.438" stop-color="#fff" stop-opacity="0.124"/><stop offset="0.500" stop-color="#fff" stop-opacity="0.089"/><stop offset="0.562" stop-color="#fff" stop-opacity="0.059"/><stop offset="0.625" stop-color="#fff" stop-opacity="0.033"/><stop offset="0.688" stop-color="#fff" stop-opacity="0.013"/><stop offset="0.750" stop-color="#fff" stop-opacity="0.000"/><stop offset="0.812" stop-color="#fff" stop-opacity="0.000"/><stop offset="0.875" stop-color="#fff" stop-opacity="0.000"/><stop offset="0.938" stop-color="#fff" stop-opacity="0.000"/><stop offset="1.000" stop-color="#fff" stop-opacity="0.000"/></linearGradient>
<linearGradient id="dgy5" gradientUnits="userSpaceOnUse" x1="0" y1="0" x2="0.00" y2="14.00"><stop offset="0.000" stop-color="#fff" stop-opacity="1.000"/><stop offset="0.071" stop-color="#fff" stop-opacity="0.678"/><stop offset="0.143" stop-color="#fff" stop-opacity="0.426"/><stop offset="0.214" stop-color="#fff" stop-opacity="0.292"/><stop offset="0.286" stop-color="#fff" stop-opacity="0.245"/><stop offset="0.357" stop-color="#fff" stop-opacity="0.200"/><stop offset="0.429" stop-color="#fff" stop-opacity="0.159"/><stop offset="0.500" stop-color="#fff" stop-opacity="0.121"/><stop offset="0.571" stop-color="#fff" stop-opacity="0.087"/><stop offset="0.643" stop-color="#fff" stop-opacity="0.056"/><stop offset="0.714" stop-color="#fff" stop-opacity="0.031"/><stop offset="0.786" stop-color="#fff" stop-opacity="0.011"/><stop offset="0.857" stop-color="#fff" stop-opacity="0.000"/><stop offset="0.929" stop-color="#fff" stop-opacity="0.000"/><stop offset="1.000" stop-color="#fff" stop-opacity="0.000"/></linearGradient>
<linearGradient id="dL5" gradientUnits="userSpaceOnUse" x1="0" y1="0" x2="0.00" y2="124.00"><stop offset="0.000" stop-color="#212121"/><stop offset="0.062" stop-color="#191919"/><stop offset="0.125" stop-color="#131313"/><stop offset="0.188" stop-color="#0f0f0f"/><stop offset="0.250" stop-color="#0d0d0d"/><stop offset="0.312" stop-color="#0c0c0c"/><stop offset="0.375" stop-color="#0b0b0b"/><stop offset="0.438" stop-color="#0a0a0a"/><stop offset="0.500" stop-color="#090909"/><stop offset="0.562" stop-color="#080808"/><stop offset="0.625" stop-color="#070707"/><stop offset="0.688" stop-color="#060606"/><stop offset="0.750" stop-color="#060606"/><stop offset="0.812" stop-color="#050505"/><stop offset="0.875" stop-color="#040404"/><stop offset="0.938" stop-color="#040404"/><stop offset="1.000" stop-color="#030303"/></linearGradient>
<linearGradient id="dT5" gradientUnits="userSpaceOnUse" x1="0" y1="0" x2="19.80" y2="0.00"><stop offset="0.000" stop-color="#1c1c1c"/><stop offset="0.125" stop-color="#1a1a1a"/><stop offset="0.250" stop-color="#181818"/><stop offset="0.375" stop-color="#141414"/><stop offset="0.500" stop-color="#101010"/><stop offset="0.625" stop-color="#0d0d0d"/><stop offset="0.750" stop-color="#0a0a0a"/><stop offset="0.875" stop-color="#080808"/><stop offset="1.000" stop-color="#060606"/></linearGradient>
<mask id="dmL5" maskUnits="userSpaceOnUse" x="0" y="0" width="19.8" height="124"><rect width="19.8" height="124" fill="url(#dL5)"/></mask>
<mask id="dmT5" maskUnits="userSpaceOnUse" x="0" y="0" width="19.8" height="14"><rect width="19.8" height="14" fill="url(#dT5)"/></mask>
<g id="k5"><rect width="19.8" height="124" fill="url(#dgx5)" mask="url(#dmL5)"/><rect width="19.8" height="14" fill="url(#dgy5)" mask="url(#dmT5)"/><path d="M0.8 0.8L7 7" stroke="url(#diag)" stroke-width="1.4" fill="none"/></g>
<linearGradient id="diag" gradientUnits="userSpaceOnUse" x1="0" y1="0" x2="13" y2="13"><stop offset="0" stop-color="#000" stop-opacity="0.04"/><stop offset="0.35" stop-color="#000" stop-opacity="0.24"/><stop offset="0.85" stop-color="#000" stop-opacity="0"/></linearGradient>
<linearGradient id="dbL" x1="0" y1="0" x2="1" y2="0"><stop offset="0" stop-color="#262626"/><stop offset="0.3" stop-color="#202020"/><stop offset="0.65" stop-color="#1a1a1a"/><stop offset="1" stop-color="#151515"/></linearGradient>
<linearGradient id="dbM" x1="0" y1="0" x2="1" y2="0"><stop offset="0" stop-color="#202020"/><stop offset="0.4" stop-color="#1a1a1a"/><stop offset="1" stop-color="#161616"/></linearGradient>
<linearGradient id="dbR" x1="0" y1="0" x2="1" y2="0"><stop offset="0" stop-color="#151515"/><stop offset="0.5" stop-color="#181818"/><stop offset="1" stop-color="#202020"/></linearGradient>
<linearGradient id="dsh" x1="0" y1="0" x2="0" y2="1"><stop offset="0" stop-color="#000" stop-opacity="0"/><stop offset="0.25" stop-color="#000" stop-opacity="0.08"/><stop offset="1" stop-color="#000" stop-opacity="0.38"/></linearGradient>
</defs>
<rect width="550" height="459" fill="#fff"/>
<g>
<rect x="62.2" y="15.9" width="39.7" height="181.6" fill="#00003c"/>
<rect x="63.40" y="17.10" width="10.97" height="28.10" fill="url(#ga)"/>
<rect x="76.57" y="17.10" width="10.97" height="28.10" fill="url(#ga)"/>
<rect x="89.73" y="17.10" width="10.97" height="28.10" fill="url(#ga)"/>
<rect x="63.40" y="47.00" width="10.97" height="28.40" fill="url(#ga)"/>
<rect x="76.57" y="47.00" width="10.97" height="28.40" fill="url(#ga)"/>
<rect x="89.73" y="47.00" width="10.97" height="28.40" fill="url(#ga)"/>
<rect x="63.40" y="77.20" width="10.97" height="28.40" fill="url(#ga)"/>
<rect x="76.57" y="77.20" width="10.97" height="28.40" fill="url(#ga)"/>
<rect x="89.73" y="77.20" width="10.97" height="28.40" fill="url(#ga)"/>
<rect x="63.40" y="107.40" width="10.97" height="28.40" fill="url(#ga)"/>
<rect x="76.57" y="107.40" width="10.97" height="28.40" fill="url(#ga)"/>
<rect x="89.73" y="107.40" width="10.97" height="28.40" fill="url(#ga)"/>
<rect x="63.40" y="137.60" width="10.97" height="28.40" fill="url(#ga)"/>
<rect x="76.57" y="137.60" width="10.97" height="28.40" fill="url(#ga)"/>
<rect x="89.73" y="137.60" width="10.97" height="28.40" fill="url(#ga)"/>
<rect x="63.40" y="167.80" width="10.97" height="28.40" fill="url(#ga)"/>
<rect x="76.57" y="167.80" width="10.97" height="28.40" fill="url(#ga)"/>
<rect x="89.73" y="167.80" width="10.97" height="28.40" fill="url(#ga)"/>
<path d="M62.800000000000004 197.5V16.5H101.30000000000001V197.5" fill="none" stroke="#05050f" stroke-width="1.0"/>
<rect x="146.0" y="74.1" width="37.4" height="115.0" fill="#200038"/>
<rect x="147.00" y="75.10" width="4.03" height="27.05" fill="url(#gr)"/>
<rect x="152.23" y="75.10" width="4.03" height="27.05" fill="url(#gr)"/>
<rect x="157.46" y="75.10" width="4.03" height="27.05" fill="url(#gr)"/>
<rect x="162.69" y="75.10" width="4.03" height="27.05" fill="url(#gr)"/>
<rect x="167.91" y="75.10" width="4.03" height="27.05" fill="url(#gr)"/>
<rect x="173.14" y="75.10" width="4.03" height="27.05" fill="url(#gr)"/>
<rect x="178.37" y="75.10" width="4.03" height="27.05" fill="url(#gr)"/>
<rect x="147.00" y="103.55" width="4.03" height="27.35" fill="url(#gr)"/>
<rect x="152.23" y="103.55" width="4.03" height="27.35" fill="url(#gr)"/>
<rect x="157.46" y="103.55" width="4.03" height="27.35" fill="url(#gr)"/>
<rect x="162.69" y="103.55" width="4.03" height="27.35" fill="url(#gr)"/>
<rect x="167.91" y="103.55" width="4.03" height="27.35" fill="url(#gr)"/>
<rect x="173.14" y="103.55" width="4.03" height="27.35" fill="url(#gr)"/>
<rect x="178.37" y="103.55" width="4.03" height="27.35" fill="url(#gr)"/>
<rect x="147.00" y="132.30" width="4.03" height="27.35" fill="url(#gr)"/>
<rect x="152.23" y="132.30" width="4.03" height="27.35" fill="url(#gr)"/>
<rect x="157.46" y="132.30" width="4.03" height="27.35" fill="url(#gr)"/>
<rect x="162.69" y="132.30" width="4.03" height="27.35" fill="url(#gr)"/>
<rect x="167.91" y="132.30" width="4.03" height="27.35" fill="url(#gr)"/>
<rect x="173.14" y="132.30" width="4.03" height="27.35" fill="url(#gr)"/>
<rect x="178.37" y="132.30" width="4.03" height="27.35" fill="url(#gr)"/>
<rect x="147.00" y="161.05" width="4.03" height="27.05" fill="url(#gr)"/>
<rect x="152.23" y="161.05" width="4.03" height="27.05" fill="url(#gr)"/>
<rect x="157.46" y="161.05" width="4.03" height="27.05" fill="url(#gr)"/>
<rect x="162.69" y="161.05" width="4.03" height="27.05" fill="url(#gr)"/>
<rect x="167.91" y="161.05" width="4.03" height="27.05" fill="url(#gr)"/>
<rect x="173.14" y="161.05" width="4.03" height="27.05" fill="url(#gr)"/>
<rect x="178.37" y="161.05" width="4.03" height="27.05" fill="url(#gr)"/>
<rect x="146.5" y="74.6" width="36.4" height="114.0" fill="none" stroke="#100008" stroke-width="1.1"/>
<rect x="38.9" y="8.5" width="173.6" height="189.0" fill="none" stroke="#6e6e6e" stroke-width="1.1"/>
<path d="M64.4 197.5v-2.8M64.4 8.5v2.8M108.5 197.5v-2.8M108.5 8.5v2.8M152.5 197.5v-2.8M152.5 8.5v2.8M196.6 197.5v-2.8M196.6 8.5v2.8M38.9 13.5h2.8M212.5 13.5h-2.8M38.9 35.6h2.8M212.5 35.6h-2.8M38.9 57.7h2.8M212.5 57.7h-2.8M38.9 79.7h2.8M212.5 79.7h-2.8M38.9 101.8h2.8M212.5 101.8h-2.8M38.9 123.9h2.8M212.5 123.9h-2.8M38.9 145.9h2.8M212.5 145.9h-2.8M38.9 168.0h2.8M212.5 168.0h-2.8M38.9 190.1h2.8M212.5 190.1h-2.8" stroke="#444" stroke-width="0.9" fill="none"/>
<text x="64.8" y="208.8" text-anchor="middle" class="t">130</text>
<text x="108.9" y="208.8" text-anchor="middle" class="t">140</text>
<text x="152.9" y="208.8" text-anchor="middle" class="t">150</text>
<text x="37.0" y="39.1" text-anchor="end" class="t">520</text>
<text x="37.0" y="61.2" text-anchor="end" class="t">515</text>
<text x="37.0" y="83.2" text-anchor="end" class="t">510</text>
<text x="37.0" y="105.3" text-anchor="end" class="t">505</text>
<text x="37.0" y="127.4" text-anchor="end" class="t">500</text>
<text x="37.0" y="149.4" text-anchor="end" class="t">495</text>
<text x="37.0" y="171.5" text-anchor="end" class="t">490</text>
<text x="37.0" y="193.6" text-anchor="end" class="t">485</text>
<text x="6.6" y="12.1" class="m">mm</text>
<text x="213.6" y="209" text-anchor="end" class="m">mm</text>
<rect x="223.5" y="40.5" width="7.6" height="152.8" fill="url(#jet)" stroke="#333" stroke-width="0.5"/>
<text x="234.3" y="59.6" class="t">2.5</text>
<text x="234.3" y="87.1" class="t">2</text>
<text x="234.3" y="114.6" class="t">1.5</text>
<text x="234.3" y="142.1" class="t">1</text>
<text x="234.3" y="169.6" class="t">0.5</text>
<path d="M231.1 56.3h-2M231.1 83.8h-2M231.1 111.3h-2M231.1 138.8h-2M231.1 166.3h-2" stroke="#222" stroke-width="0.8" fill="none"/>
<text x="231.3" y="34.6" class="t">×10<tspan dy="-3.6" font-size="6.2">4</tspan></text>
<g transform="translate(256.1,9.6)"><rect x="-0.6" y="-0.5" width="8.2" height="6.6" rx="2.2" fill="#d8dce4" opacity="0.6"/><rect x="0" y="0" width="7" height="5.4" rx="1.6" fill="url(#icb)"/><path d="M4 1.2h1.8v3h-1.8z" fill="#28b8d8"/><path d="M1.7 1.1L4.2 2.7L1.7 4.3Z" fill="#f4e838" stroke="#f4e838" stroke-width="0.5" stroke-linejoin="round"/></g>
<text x="136" y="227.1" text-anchor="middle" class="c">(<tspan font-weight="bold">a</tspan>)</text>
</g>
<g transform="translate(283.3,0)">
<rect x="62.2" y="15.9" width="39.7" height="181.6" fill="#000040"/>
<g filter="url(#jetmap)">
<g transform="translate(63.40,17.10)"><clipPath id="cb00"><rect width="11.30" height="28.25"/></clipPath><g clip-path="url(#cb00)"><use href="#cA"/></g></g>
<g transform="translate(76.40,17.10)"><clipPath id="cb01"><rect width="11.30" height="28.25"/></clipPath><g clip-path="url(#cb01)"><use href="#cB"/></g></g>
<g transform="translate(89.40,17.10)"><clipPath id="cb02"><rect width="11.30" height="28.25"/></clipPath><g clip-path="url(#cb02)"><use href="#cC"/></g></g>
<use href="#cH" x="63.40" y="46.85"/>
<use href="#cH" x="76.40" y="46.85"/>
<use href="#cH" x="89.40" y="46.85"/>
<use href="#cH" x="63.40" y="77.05"/>
<use href="#cH" x="76.40" y="77.05"/>
<use href="#cH" x="89.40" y="77.05"/>
<use href="#cH" x="63.40" y="107.25"/>
<use href="#cH" x="76.40" y="107.25"/>
<use href="#cH" x="89.40" y="107.25"/>
<use href="#cH" x="63.40" y="137.45"/>
<use href="#cH" x="76.40" y="137.45"/>
<use href="#cH" x="89.40" y="137.45"/>
<use href="#cH" x="63.40" y="167.65"/>
<use href="#cH" x="76.40" y="167.65"/>
<use href="#cH" x="89.40" y="167.65"/>
</g>
<path d="M62.800000000000004 197.5V16.5H101.30000000000001V197.5" fill="none" stroke="#05050f" stroke-width="1.0"/>
<rect x="146.0" y="74.1" width="37.4" height="115.0" fill="#000038"/>
<rect x="147.00" y="75.10" width="3.77" height="27.05" fill="url(#rb0)"/>
<rect x="152.27" y="75.10" width="3.77" height="27.05" fill="url(#rb0)"/>
<rect x="157.54" y="75.10" width="3.77" height="27.05" fill="url(#rb0)"/>
<rect x="162.81" y="75.10" width="3.77" height="27.05" fill="url(#rb0)"/>
<rect x="168.09" y="75.10" width="3.77" height="27.05" fill="url(#rb0)"/>
<rect x="173.36" y="75.10" width="3.77" height="27.05" fill="url(#rb0)"/>
<rect x="178.63" y="75.10" width="3.77" height="27.05" fill="url(#rb0)"/>
<rect x="147.00" y="103.55" width="3.77" height="27.35" fill="url(#rb1)"/>
<rect x="152.27" y="103.55" width="3.77" height="27.35" fill="url(#rb1)"/>
<rect x="157.54" y="103.55" width="3.77" height="27.35" fill="url(#rb1)"/>
<rect x="162.81" y="103.55" width="3.77" height="27.35" fill="url(#rb1)"/>
<rect x="168.09" y="103.55" width="3.77" height="27.35" fill="url(#rb1)"/>
<rect x="173.36" y="103.55" width="3.77" height="27.35" fill="url(#rb1)"/>
<rect x="178.63" y="103.55" width="3.77" height="27.35" fill="url(#rb1)"/>
<rect x="147.00" y="132.30" width="3.77" height="27.35" fill="url(#rb2)"/>
<rect x="152.27" y="132.30" width="3.77" height="27.35" fill="url(#rb2)"/>
<rect x="157.54" y="132.30" width="3.77" height="27.35" fill="url(#rb2)"/>
<rect x="162.81" y="132.30" width="3.77" height="27.35" fill="url(#rb2)"/>
<rect x="168.09" y="132.30" width="3.77" height="27.35" fill="url(#rb2)"/>
<rect x="173.36" y="132.30" width="3.77" height="27.35" fill="url(#rb2)"/>
<rect x="178.63" y="132.30" width="3.77" height="27.35" fill="url(#rb2)"/>
<rect x="147.00" y="161.05" width="3.77" height="27.05" fill="url(#rb3)"/>
<rect x="152.27" y="161.05" width="3.77" height="27.05" fill="url(#rb3)"/>
<rect x="157.54" y="161.05" width="3.77" height="27.05" fill="url(#rb3)"/>
<rect x="162.81" y="161.05" width="3.77" height="27.05" fill="url(#rb3)"/>
<rect x="168.09" y="161.05" width="3.77" height="27.05" fill="url(#rb3)"/>
<rect x="173.36" y="161.05" width="3.77" height="27.05" fill="url(#rb3)"/>
<rect x="178.63" y="161.05" width="3.77" height="27.05" fill="url(#rb3)"/>
<rect x="146.5" y="74.6" width="36.4" height="114.0" fill="none" stroke="#05050f" stroke-width="1.1"/>
<rect x="38.9" y="8.5" width="173.6" height="189.0" fill="none" stroke="#6e6e6e" stroke-width="1.1"/>
<path d="M64.4 197.5v-2.8M64.4 8.5v2.8M108.5 197.5v-2.8M108.5 8.5v2.8M152.5 197.5v-2.8M152.5 8.5v2.8M196.6 197.5v-2.8M196.6 8.5v2.8M38.9 13.5h2.8M212.5 13.5h-2.8M38.9 35.6h2.8M212.5 35.6h-2.8M38.9 57.7h2.8M212.5 57.7h-2.8M38.9 79.7h2.8M212.5 79.7h-2.8M38.9 101.8h2.8M212.5 101.8h-2.8M38.9 123.9h2.8M212.5 123.9h-2.8M38.9 145.9h2.8M212.5 145.9h-2.8M38.9 168.0h2.8M212.5 168.0h-2.8M38.9 190.1h2.8M212.5 190.1h-2.8" stroke="#444" stroke-width="0.9" fill="none"/>
<text x="64.8" y="208.8" text-anchor="middle" class="t">130</text>
<text x="108.9" y="208.8" text-anchor="middle" class="t">140</text>
<text x="152.9" y="208.8" text-anchor="middle" class="t">150</text>
<text x="37.0" y="39.1" text-anchor="end" class="t">520</text>
<text x="37.0" y="61.2" text-anchor="end" class="t">515</text>
<text x="37.0" y="83.2" text-anchor="end" class="t">510</text>
<text x="37.0" y="105.3" text-anchor="end" class="t">505</text>
<text x="37.0" y="127.4" text-anchor="end" class="t">500</text>
<text x="37.0" y="149.4" text-anchor="end" class="t">495</text>
<text x="37.0" y="171.5" text-anchor="end" class="t">490</text>
<text x="37.0" y="193.6" text-anchor="end" class="t">485</text>
<text x="6.6" y="12.1" class="m">mm</text>
<text x="213.6" y="209" text-anchor="end" class="m">mm</text>
<rect x="223.5" y="40.5" width="7.6" height="152.8" fill="url(#jet)" stroke="#333" stroke-width="0.5"/>
<text x="234.3" y="49.1" class="t">1.4</text>
<text x="234.3" y="70.3" class="t">1.2</text>
<text x="234.3" y="91.5" class="t">1</text>
<text x="234.3" y="112.7" class="t">0.8</text>
<text x="234.3" y="133.9" class="t">0.6</text>
<text x="234.3" y="155.1" class="t">0.4</text>
<text x="234.3" y="176.3" class="t">0.2</text>
<path d="M231.1 45.8h-2M231.1 67.0h-2M231.1 88.2h-2M231.1 109.4h-2M231.1 130.6h-2M231.1 151.8h-2M231.1 173.0h-2" stroke="#222" stroke-width="0.8" fill="none"/>
<text x="231.3" y="34.6" class="t">×10<tspan dy="-3.6" font-size="6.2">4</tspan></text>
<g transform="translate(256.1,9.6)"><rect x="-0.6" y="-0.5" width="8.2" height="6.6" rx="2.2" fill="#d8dce4" opacity="0.6"/><rect x="0" y="0" width="7" height="5.4" rx="1.6" fill="url(#icb)"/><path d="M4 1.2h1.8v3h-1.8z" fill="#28b8d8"/><path d="M1.7 1.1L4.2 2.7L1.7 4.3Z" fill="#f4e838" stroke="#f4e838" stroke-width="0.5" stroke-linejoin="round"/></g>
<text x="136" y="227.1" text-anchor="middle" class="c">(<tspan font-weight="bold">b</tspan>)</text>
</g>
<g transform="translate(0,225.5)">
<rect x="62.2" y="15.9" width="39.7" height="181.6" fill="#000050"/>
<rect x="63.40" y="17.10" width="10.97" height="28.10" fill="url(#gc)"/>
<rect x="76.57" y="17.10" width="10.97" height="28.10" fill="url(#gc)"/>
<rect x="89.73" y="17.10" width="10.97" height="28.10" fill="url(#gc)"/>
<rect x="63.40" y="47.00" width="10.97" height="28.40" fill="url(#gc)"/>
<rect x="76.57" y="47.00" width="10.97" height="28.40" fill="url(#gc)"/>
<rect x="89.73" y="47.00" width="10.97" height="28.40" fill="url(#gc)"/>
<rect x="63.40" y="77.20" width="10.97" height="28.40" fill="url(#gc)"/>
<rect x="76.57" y="77.20" width="10.97" height="28.40" fill="url(#gc)"/>
<rect x="89.73" y="77.20" width="10.97" height="28.40" fill="url(#gc)"/>
<rect x="63.40" y="107.40" width="10.97" height="28.40" fill="url(#gc)"/>
<rect x="76.57" y="107.40" width="10.97" height="28.40" fill="url(#gc)"/>
<rect x="89.73" y="107.40" width="10.97" height="28.40" fill="url(#gc)"/>
<rect x="63.40" y="137.60" width="10.97" height="28.40" fill="url(#gc)"/>
<rect x="76.57" y="137.60" width="10.97" height="28.40" fill="url(#gc)"/>
<rect x="89.73" y="137.60" width="10.97" height="28.40" fill="url(#gc)"/>
<rect x="63.40" y="167.80" width="10.97" height="28.40" fill="url(#gc)"/>
<rect x="76.57" y="167.80" width="10.97" height="28.40" fill="url(#gc)"/>
<rect x="89.73" y="167.80" width="10.97" height="28.40" fill="url(#gc)"/>
<path d="M62.800000000000004 197.5V16.5H101.30000000000001V197.5" fill="none" stroke="#03030c" stroke-width="1.0"/>
<rect x="146.0" y="74.1" width="37.4" height="115.0" fill="#00003a"/>
<rect x="147.00" y="75.10" width="3.94" height="27.05" fill="url(#gcr)"/>
<rect x="152.24" y="75.10" width="3.94" height="27.05" fill="url(#gcr)"/>
<rect x="157.49" y="75.10" width="3.94" height="27.05" fill="url(#gcr)"/>
<rect x="162.73" y="75.10" width="3.94" height="27.05" fill="url(#gcr)"/>
<rect x="167.97" y="75.10" width="3.94" height="27.05" fill="url(#gcr)"/>
<rect x="173.21" y="75.10" width="3.94" height="27.05" fill="url(#gcr)"/>
<rect x="178.46" y="75.10" width="3.94" height="27.05" fill="url(#gcr)"/>
<rect x="147.00" y="103.55" width="3.94" height="27.35" fill="url(#gcr)"/>
<rect x="152.24" y="103.55" width="3.94" height="27.35" fill="url(#gcr)"/>
<rect x="157.49" y="103.55" width="3.94" height="27.35" fill="url(#gcr)"/>
<rect x="162.73" y="103.55" width="3.94" height="27.35" fill="url(#gcr)"/>
<rect x="167.97" y="103.55" width="3.94" height="27.35" fill="url(#gcr)"/>
<rect x="173.21" y="103.55" width="3.94" height="27.35" fill="url(#gcr)"/>
<rect x="178.46" y="103.55" width="3.94" height="27.35" fill="url(#gcr)"/>
<rect x="147.00" y="132.30" width="3.94" height="27.35" fill="url(#gcr)"/>
<rect x="152.24" y="132.30" width="3.94" height="27.35" fill="url(#gcr)"/>
<rect x="157.49" y="132.30" width="3.94" height="27.35" fill="url(#gcr)"/>
<rect x="162.73" y="132.30" width="3.94" height="27.35" fill="url(#gcr)"/>
<rect x="167.97" y="132.30" width="3.94" height="27.35" fill="url(#gcr)"/>
<rect x="173.21" y="132.30" width="3.94" height="27.35" fill="url(#gcr)"/>
<rect x="178.46" y="132.30" width="3.94" height="27.35" fill="url(#gcr)"/>
<rect x="147.00" y="161.05" width="3.94" height="27.05" fill="url(#gcr)"/>
<rect x="152.24" y="161.05" width="3.94" height="27.05" fill="url(#gcr)"/>
<rect x="157.49" y="161.05" width="3.94" height="27.05" fill="url(#gcr)"/>
<rect x="162.73" y="161.05" width="3.94" height="27.05" fill="url(#gcr)"/>
<rect x="167.97" y="161.05" width="3.94" height="27.05" fill="url(#gcr)"/>
<rect x="173.21" y="161.05" width="3.94" height="27.05" fill="url(#gcr)"/>
<rect x="178.46" y="161.05" width="3.94" height="27.05" fill="url(#gcr)"/>
<rect x="146.5" y="74.6" width="36.4" height="114.0" fill="none" stroke="#05050f" stroke-width="1.1"/>
<circle cx="147.6" cy="75.5" r="1.8" fill="url(#spG)"/>
<circle cx="181.8" cy="75.5" r="1.6" fill="url(#spG)"/>
<circle cx="147.6" cy="187.7" r="1.9" fill="url(#spG)"/>
<circle cx="181.8" cy="187.7" r="1.5" fill="url(#spG)"/>
<circle cx="153.0" cy="187.5" r="1.4" fill="url(#spC)"/>
<circle cx="158.3" cy="187.5" r="1.4" fill="url(#spC)"/>
<circle cx="163.5" cy="187.5" r="0.9" fill="url(#spC)"/>
<circle cx="168.8" cy="187.5" r="0.9" fill="url(#spC)"/>
<circle cx="174.0" cy="187.5" r="0.9" fill="url(#spC)"/>
<circle cx="147.8" cy="161.9" r="1.4" fill="url(#spC)"/>
<circle cx="147.8" cy="101.0" r="0.8" fill="url(#spD)"/>
<circle cx="147.8" cy="129.8" r="0.7" fill="url(#spD)"/>
<circle cx="147.8" cy="158.5" r="0.8" fill="url(#spD)"/>
<circle cx="153.0" cy="161.9" r="1.4" fill="url(#spC)"/>
<circle cx="153.0" cy="101.0" r="0.8" fill="url(#spD)"/>
<circle cx="153.0" cy="129.8" r="0.7" fill="url(#spD)"/>
<circle cx="153.0" cy="158.5" r="0.8" fill="url(#spD)"/>
<circle cx="158.3" cy="161.9" r="0.9" fill="url(#spC)"/>
<circle cx="158.3" cy="101.0" r="0.8" fill="url(#spD)"/>
<circle cx="158.3" cy="129.8" r="0.7" fill="url(#spD)"/>
<circle cx="158.3" cy="158.5" r="0.8" fill="url(#spD)"/>
<circle cx="163.5" cy="161.9" r="0.9" fill="url(#spC)"/>
<circle cx="163.5" cy="101.0" r="0.8" fill="url(#spD)"/>
<circle cx="163.5" cy="129.8" r="0.7" fill="url(#spD)"/>
<circle cx="163.5" cy="158.5" r="0.8" fill="url(#spD)"/>
<circle cx="168.8" cy="161.9" r="0.9" fill="url(#spC)"/>
<circle cx="168.8" cy="101.0" r="0.8" fill="url(#spD)"/>
<circle cx="168.8" cy="129.8" r="0.7" fill="url(#spD)"/>
<circle cx="168.8" cy="158.5" r="0.8" fill="url(#spD)"/>
<circle cx="174.0" cy="161.9" r="0.9" fill="url(#spC)"/>
<circle cx="174.0" cy="101.0" r="0.8" fill="url(#spD)"/>
<circle cx="174.0" cy="129.8" r="0.7" fill="url(#spD)"/>
<circle cx="174.0" cy="158.5" r="0.8" fill="url(#spD)"/>
<circle cx="179.3" cy="161.9" r="0.9" fill="url(#spC)"/>
<circle cx="179.3" cy="101.0" r="0.8" fill="url(#spD)"/>
<circle cx="179.3" cy="129.8" r="0.7" fill="url(#spD)"/>
<circle cx="179.3" cy="158.5" r="0.8" fill="url(#spD)"/>
<rect x="38.9" y="8.5" width="173.6" height="189.0" fill="none" stroke="#6e6e6e" stroke-width="1.1"/>
<path d="M64.4 197.5v-2.8M64.4 8.5v2.8M108.5 197.5v-2.8M108.5 8.5v2.8M152.5 197.5v-2.8M152.5 8.5v2.8M196.6 197.5v-2.8M196.6 8.5v2.8M38.9 13.5h2.8M212.5 13.5h-2.8M38.9 35.6h2.8M212.5 35.6h-2.8M38.9 57.7h2.8M212.5 57.7h-2.8M38.9 79.7h2.8M212.5 79.7h-2.8M38.9 101.8h2.8M212.5 101.8h-2.8M38.9 123.9h2.8M212.5 123.9h-2.8M38.9 145.9h2.8M212.5 145.9h-2.8M38.9 168.0h2.8M212.5 168.0h-2.8M38.9 190.1h2.8M212.5 190.1h-2.8" stroke="#444" stroke-width="0.9" fill="none"/>
<text x="64.8" y="208.8" text-anchor="middle" class="t">130</text>
<text x="108.9" y="208.8" text-anchor="middle" class="t">140</text>
<text x="152.9" y="208.8" text-anchor="middle" class="t">150</text>
<text x="37.0" y="39.1" text-anchor="end" class="t">520</text>
<text x="37.0" y="61.2" text-anchor="end" class="t">515</text>
<text x="37.0" y="83.2" text-anchor="end" class="t">510</text>
<text x="37.0" y="105.3" text-anchor="end" class="t">505</text>
<text x="37.0" y="127.4" text-anchor="end" class="t">500</text>
<text x="37.0" y="149.4" text-anchor="end" class="t">495</text>
<text x="37.0" y="171.5" text-anchor="end" class="t">490</text>
<text x="37.0" y="193.6" text-anchor="end" class="t">485</text>
<text x="6.6" y="12.1" class="m">mm</text>
<text x="213.6" y="209" text-anchor="end" class="m">mm</text>
<rect x="223.5" y="40.5" width="7.6" height="152.8" fill="url(#jet)" stroke="#333" stroke-width="0.5"/>
<text x="234.3" y="59.2" class="t">3.5</text>
<text x="234.3" y="78.9" class="t">3</text>
<text x="234.3" y="98.6" class="t">2.5</text>
<text x="234.3" y="118.3" class="t">2</text>
<text x="234.3" y="138.0" class="t">1.5</text>
<text x="234.3" y="157.7" class="t">1</text>
<text x="234.3" y="177.4" class="t">0.5</text>
<path d="M231.1 55.9h-2M231.1 75.6h-2M231.1 95.3h-2M231.1 115.0h-2M231.1 134.7h-2M231.1 154.4h-2M231.1 174.1h-2" stroke="#222" stroke-width="0.8" fill="none"/>
<text x="231.3" y="34.6" class="t">×10<tspan dy="-3.6" font-size="6.2">4</tspan></text>
<g transform="translate(256.1,9.6)"><rect x="-0.6" y="-0.5" width="8.2" height="6.6" rx="2.2" fill="#d8dce4" opacity="0.6"/><rect x="0" y="0" width="7" height="5.4" rx="1.6" fill="url(#icb)"/><path d="M4 1.2h1.8v3h-1.8z" fill="#28b8d8"/><path d="M1.7 1.1L4.2 2.7L1.7 4.3Z" fill="#f4e838" stroke="#f4e838" stroke-width="0.5" stroke-linejoin="round"/></g>
<text x="136" y="227.1" text-anchor="middle" class="c">(<tspan font-weight="bold">c</tspan>)</text>
</g>
<g transform="translate(283.3,225.5)">
<rect x="41.9" y="34" width="166.3" height="163.5" fill="#00006a"/>
<rect x="43.5" y="35.8" width="21.0" height="125.0" fill="#00002c"/>
<rect x="43.5" y="164.9" width="21.0" height="33.1" fill="#00002c"/>
<rect x="67.1" y="35.8" width="20.7" height="125.0" fill="#00002c"/>
<rect x="67.1" y="164.9" width="20.7" height="33.1" fill="#00002c"/>
<rect x="90.7" y="35.8" width="21.0" height="125.0" fill="#00002c"/>
<rect x="90.7" y="164.9" width="21.0" height="33.1" fill="#00002c"/>
<rect x="114.6" y="35.8" width="20.8" height="125.0" fill="#00002c"/>
<rect x="114.6" y="164.9" width="20.8" height="33.1" fill="#00002c"/>
<rect x="138.4" y="35.8" width="20.7" height="125.0" fill="#00002c"/>
<rect x="138.4" y="164.9" width="20.7" height="33.1" fill="#00002c"/>
<rect x="162.0" y="35.8" width="21.0" height="125.0" fill="#00002c"/>
<rect x="162.0" y="164.9" width="21.0" height="33.1" fill="#00002c"/>
<rect x="186.1" y="35.8" width="20.7" height="125.0" fill="#00002c"/>
<rect x="186.1" y="164.9" width="20.7" height="33.1" fill="#00002c"/>
<g filter="url(#jetmap)">
<clipPath id="cp01"><rect x="44.0" y="36.3" width="20.0" height="124.0"/></clipPath><g clip-path="url(#cp01)">
<rect x="44.0" y="36.3" width="20.0" height="124.0" fill="url(#dbL)"/><rect x="44.0" y="36.3" width="20.0" height="124.0" fill="url(#dsh)"/>
<use href="#k1" transform="translate(44.00,36.30) scale(1,1)"/>
<use href="#k2" transform="translate(64.00,160.30) scale(-1,-1)"/>
</g>
<clipPath id="cp00"><rect x="44.0" y="165.4" width="20.0" height="32.1"/></clipPath><g clip-path="url(#cp00)">
<rect x="44.0" y="165.4" width="20.0" height="32.1" fill="url(#dbL)"/><rect x="44.0" y="165.4" width="20.0" height="32.1" fill="url(#dsh)"/>
<use href="#k2" transform="translate(44.00,165.40) scale(1,1)"/>
</g>
<clipPath id="cp11"><rect x="67.6" y="36.3" width="19.7" height="124.0"/></clipPath><g clip-path="url(#cp11)">
<rect x="67.6" y="36.3" width="19.7" height="124.0" fill="url(#dbL)"/><rect x="67.6" y="36.3" width="19.7" height="124.0" fill="url(#dsh)"/>
<use href="#k2" transform="translate(67.60,36.30) scale(1,1)"/>
<use href="#k3" transform="translate(87.30,160.30) scale(-1,-1)"/>
</g>
<clipPath id="cp10"><rect x="67.6" y="165.4" width="19.7" height="32.1"/></clipPath><g clip-path="url(#cp10)">
<rect x="67.6" y="165.4" width="19.7" height="32.1" fill="url(#dbL)"/><rect x="67.6" y="165.4" width="19.7" height="32.1" fill="url(#dsh)"/>
<use href="#k2" transform="translate(67.60,165.40) scale(1,1)"/>
</g>
<clipPath id="cp21"><rect x="91.2" y="36.3" width="20.0" height="124.0"/></clipPath><g clip-path="url(#cp21)">
<rect x="91.2" y="36.3" width="20.0" height="124.0" fill="url(#dbL)"/><rect x="91.2" y="36.3" width="20.0" height="124.0" fill="url(#dsh)"/>
<use href="#k3" transform="translate(91.20,36.30) scale(1,1)"/>
<use href="#k4" transform="translate(111.20,160.30) scale(-1,-1)"/>
</g>
<clipPath id="cp20"><rect x="91.2" y="165.4" width="20.0" height="32.1"/></clipPath><g clip-path="url(#cp20)">
<rect x="91.2" y="165.4" width="20.0" height="32.1" fill="url(#dbL)"/><rect x="91.2" y="165.4" width="20.0" height="32.1" fill="url(#dsh)"/>
<use href="#k4" transform="translate(91.20,165.40) scale(1,1)"/>
</g>
<clipPath id="cp31"><rect x="115.1" y="36.3" width="19.8" height="124.0"/></clipPath><g clip-path="url(#cp31)">
<rect x="115.1" y="36.3" width="19.8" height="124.0" fill="url(#dbM)"/><rect x="115.1" y="36.3" width="19.8" height="124.0" fill="url(#dsh)"/>
<use href="#k4" transform="translate(115.10,36.30) scale(1,1)"/>
<use href="#k5" transform="translate(134.90,160.30) scale(-1,-1)"/>
</g>
<clipPath id="cp30"><rect x="115.1" y="165.4" width="19.8" height="32.1"/></clipPath><g clip-path="url(#cp30)">
<rect x="115.1" y="165.4" width="19.8" height="32.1" fill="url(#dbM)"/><rect x="115.1" y="165.4" width="19.8" height="32.1" fill="url(#dsh)"/>
<use href="#k5" transform="translate(115.10,165.40) scale(1,1)"/>
</g>
<clipPath id="cp41"><rect x="138.9" y="36.3" width="19.7" height="124.0"/></clipPath><g clip-path="url(#cp41)">
<rect x="138.9" y="36.3" width="19.7" height="124.0" fill="url(#dbM)"/><rect x="138.9" y="36.3" width="19.7" height="124.0" fill="url(#dsh)"/>
<use href="#k5" transform="translate(138.90,36.30) scale(1,1)"/>
<use href="#k5" transform="translate(158.60,36.30) scale(-1,1)"/>
<use href="#k5" transform="translate(138.90,160.30) scale(1,-1)"/>
</g>
<clipPath id="cp40"><rect x="138.9" y="165.4" width="19.7" height="32.1"/></clipPath><g clip-path="url(#cp40)">
<rect x="138.9" y="165.4" width="19.7" height="32.1" fill="url(#dbM)"/><rect x="138.9" y="165.4" width="19.7" height="32.1" fill="url(#dsh)"/>
<use href="#k5" transform="translate(138.90,165.40) scale(1,1)"/>
<use href="#k5" transform="translate(158.60,165.40) scale(-1,1)"/>
</g>
<clipPath id="cp51"><rect x="162.5" y="36.3" width="20.0" height="124.0"/></clipPath><g clip-path="url(#cp51)">
<rect x="162.5" y="36.3" width="20.0" height="124.0" fill="url(#dbR)"/><rect x="162.5" y="36.3" width="20.0" height="124.0" fill="url(#dsh)"/>
<use href="#k4" transform="translate(182.50,36.30) scale(-1,1)"/>
<use href="#k5" transform="translate(162.50,160.30) scale(1,-1)"/>
</g>
<clipPath id="cp50"><rect x="162.5" y="165.4" width="20.0" height="32.1"/></clipPath><g clip-path="url(#cp50)">
<rect x="162.5" y="165.4" width="20.0" height="32.1" fill="url(#dbR)"/><rect x="162.5" y="165.4" width="20.0" height="32.1" fill="url(#dsh)"/>
<use href="#k5" transform="translate(182.50,165.40) scale(-1,1)"/>
</g>
<clipPath id="cp61"><rect x="186.6" y="36.3" width="19.7" height="124.0"/></clipPath><g clip-path="url(#cp61)">
<rect x="186.6" y="36.3" width="19.7" height="124.0" fill="url(#dbR)"/><rect x="186.6" y="36.3" width="19.7" height="124.0" fill="url(#dsh)"/>
<use href="#k3" transform="translate(206.30,36.30) scale(-1,1)"/>
<use href="#k4" transform="translate(186.60,160.30) scale(1,-1)"/>
</g>
<clipPath id="cp60"><rect x="186.6" y="165.4" width="19.7" height="32.1"/></clipPath><g clip-path="url(#cp60)">
<rect x="186.6" y="165.4" width="19.7" height="32.1" fill="url(#dbR)"/><rect x="186.6" y="165.4" width="19.7" height="32.1" fill="url(#dsh)"/>
<use href="#k4" transform="translate(206.30,165.40) scale(-1,1)"/>
</g>
</g>
<rect x="38.9" y="8.5" width="173.6" height="189.0" fill="none" stroke="#6e6e6e" stroke-width="1.1"/>
<path d="M71.3 197.5v-2.8M71.3 8.5v2.8M169.6 197.5v-2.8M169.6 8.5v2.8M38.9 20.5h2.8M212.5 20.5h-2.8M38.9 40.1h2.8M212.5 40.1h-2.8M38.9 59.8h2.8M212.5 59.8h-2.8M38.9 79.4h2.8M212.5 79.4h-2.8M38.9 99.1h2.8M212.5 99.1h-2.8M38.9 118.8h2.8M212.5 118.8h-2.8M38.9 138.4h2.8M212.5 138.4h-2.8M38.9 158.0h2.8M212.5 158.0h-2.8M38.9 177.7h2.8M212.5 177.7h-2.8M38.9 197.3h2.8M212.5 197.3h-2.8" stroke="#444" stroke-width="0.9" fill="none"/>
<text x="71.7" y="208.8" text-anchor="middle" class="t">150</text>
<text x="170.0" y="208.8" text-anchor="middle" class="t">155</text>
<text x="36.5" y="24.0" text-anchor="end" class="t">512</text>
<text x="36.5" y="43.6" text-anchor="end" class="t">511</text>
<text x="36.5" y="63.3" text-anchor="end" class="t">510</text>
<text x="36.5" y="82.9" text-anchor="end" class="t">509</text>
<text x="36.5" y="102.6" text-anchor="end" class="t">508</text>
<text x="36.5" y="122.2" text-anchor="end" class="t">507</text>
<text x="36.5" y="141.9" text-anchor="end" class="t">506</text>
<text x="36.5" y="161.5" text-anchor="end" class="t">505</text>
<text x="36.5" y="181.2" text-anchor="end" class="t">504</text>
<text x="36.5" y="200.8" text-anchor="end" class="t">503</text>
<text x="6.6" y="12.1" class="m">mm</text>
<text x="213.6" y="209" text-anchor="end" class="m">mm</text>
<rect x="223.5" y="40.5" width="7.6" height="152.8" fill="url(#jet)" stroke="#333" stroke-width="0.5"/>
<text x="234.3" y="59.2" class="t">3.5</text>
<text x="234.3" y="78.9" class="t">3</text>
<text x="234.3" y="98.6" class="t">2.5</text>
<text x="234.3" y="118.3" class="t">2</text>
<text x="234.3" y="138.0" class="t">1.5</text>
<text x="234.3" y="157.7" class="t">1</text>
<text x="234.3" y="177.4" class="t">0.5</text>
<path d="M231.1 55.9h-2M231.1 75.6h-2M231.1 95.3h-2M231.1 115.0h-2M231.1 134.7h-2M231.1 154.4h-2M231.1 174.1h-2" stroke="#222" stroke-width="0.8" fill="none"/>
<text x="231.3" y="34.6" class="t">×10<tspan dy="-3.6" font-size="6.2">4</tspan></text>
<g transform="translate(256.1,9.6)"><rect x="-0.6" y="-0.5" width="8.2" height="6.6" rx="2.2" fill="#d8dce4" opacity="0.6"/><rect x="0" y="0" width="7" height="5.4" rx="1.6" fill="url(#icb)"/><path d="M4 1.2h1.8v3h-1.8z" fill="#28b8d8"/><path d="M1.7 1.1L4.2 2.7L1.7 4.3Z" fill="#f4e838" stroke="#f4e838" stroke-width="0.5" stroke-linejoin="round"/></g>
<text x="136" y="227.1" text-anchor="middle" class="c">(<tspan font-weight="bold">d</tspan>)</text>
</g>
</svg>
</body></html>
